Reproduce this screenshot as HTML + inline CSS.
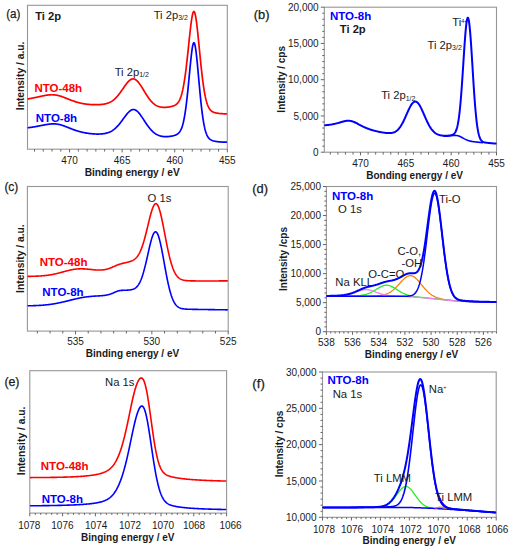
<!DOCTYPE html>
<html><head><meta charset="utf-8"><style>
html,body{margin:0;padding:0;background:#fff;}
svg{display:block;font-family:"Liberation Sans", sans-serif;}
</style></head><body>
<svg width="511" height="550" viewBox="0 0 511 550">
<rect width="511" height="550" fill="#fff"/>
<text x="6.15" y="17.6" font-size="12.5" fill="#1a1a1a" textLength="14.25" lengthAdjust="spacingAndGlyphs" stroke="#1a1a1a" stroke-width="0.25">(a)</text>
<rect x="27.5" y="5.3" width="199.80" height="143.90" fill="none" stroke="#969696" stroke-width="1.1"/>
<path d="M227.30,149.20v3.2 M218.54,149.20v2.4 M209.77,149.20v2.4 M201.01,149.20v2.4 M192.25,149.20v2.4 M183.48,149.20v2.4 M174.72,149.20v3.2 M165.96,149.20v2.4 M157.19,149.20v2.4 M148.43,149.20v2.4 M139.67,149.20v2.4 M130.90,149.20v2.4 M122.14,149.20v3.2 M113.38,149.20v2.4 M104.62,149.20v2.4 M95.85,149.20v2.4 M87.09,149.20v2.4 M78.33,149.20v2.4 M69.56,149.20v3.2 M60.80,149.20v2.4 M52.04,149.20v2.4 M43.27,149.20v2.4 M34.51,149.20v2.4" stroke="#555" stroke-width="0.9" fill="none"/>
<text x="69.56" y="163.6" font-size="10" font-weight="normal" fill="#1a1a1a" text-anchor="middle" >470</text>
<text x="122.14" y="163.6" font-size="10" font-weight="normal" fill="#1a1a1a" text-anchor="middle" >465</text>
<text x="174.72" y="163.6" font-size="10" font-weight="normal" fill="#1a1a1a" text-anchor="middle" >460</text>
<text x="227.30" y="163.6" font-size="10" font-weight="normal" fill="#1a1a1a" text-anchor="middle" >455</text>
<text x="132.2" y="175.7" font-size="10.2" font-weight="bold" fill="#1a1a1a" text-anchor="middle" >Binding energy / eV</text>
<text x="23.6" y="75.9" font-size="10.3" font-weight="bold" fill="#1a1a1a" text-anchor="middle" transform="rotate(-90 23.6 75.9)">Intensity / a.u.</text>
<polyline points="28.30,98.88 28.80,98.79 29.30,98.70 29.80,98.61 30.30,98.52 30.80,98.43 31.30,98.34 31.80,98.24 32.30,98.14 32.80,98.04 33.30,97.94 33.80,97.84 34.30,97.74 34.80,97.63 35.30,97.53 35.80,97.42 36.30,97.32 36.80,97.21 37.30,97.10 37.80,96.99 38.30,96.88 38.80,96.77 39.30,96.66 39.80,96.55 40.30,96.45 40.80,96.34 41.30,96.23 41.80,96.12 42.30,96.02 42.80,95.92 43.30,95.82 43.80,95.72 44.30,95.62 44.80,95.53 45.30,95.44 45.80,95.35 46.30,95.27 46.80,95.19 47.30,95.12 47.80,95.05 48.30,94.99 48.80,94.94 49.30,94.89 49.80,94.85 50.30,94.82 50.80,94.79 51.30,94.77 51.80,94.77 52.30,94.77 52.80,94.78 53.30,94.80 53.80,94.83 54.30,94.87 54.80,94.92 55.30,94.98 55.80,95.05 56.30,95.13 56.80,95.22 57.30,95.32 57.80,95.43 58.30,95.54 58.80,95.67 59.30,95.81 59.80,95.95 60.30,96.10 60.80,96.26 61.30,96.42 61.80,96.59 62.30,96.77 62.80,96.95 63.30,97.13 63.80,97.32 64.30,97.51 64.80,97.71 65.30,97.90 65.80,98.10 66.30,98.30 66.80,98.50 67.30,98.70 67.80,98.90 68.30,99.10 68.80,99.30 69.30,99.49 69.80,99.69 70.30,99.88 70.80,100.08 71.30,100.26 71.80,100.45 72.30,100.63 72.80,100.81 73.30,100.99 73.80,101.16 74.30,101.33 74.80,101.50 75.30,101.66 75.80,101.82 76.30,101.97 76.80,102.12 77.30,102.27 77.80,102.41 78.30,102.54 78.80,102.68 79.30,102.80 79.80,102.93 80.30,103.04 80.80,103.16 81.30,103.27 81.80,103.37 82.30,103.47 82.80,103.57 83.30,103.66 83.80,103.75 84.30,103.83 84.80,103.91 85.30,103.98 85.80,104.05 86.30,104.12 86.80,104.18 87.30,104.24 87.80,104.30 88.30,104.35 88.80,104.39 89.30,104.44 89.80,104.48 90.30,104.52 90.80,104.55 91.30,104.58 91.80,104.61 92.30,104.63 92.80,104.65 93.30,104.67 93.80,104.68 94.30,104.69 94.80,104.70 95.30,104.70 95.80,104.70 96.30,104.70 96.80,104.69 97.30,104.69 97.80,104.67 98.30,104.66 98.80,104.63 99.30,104.61 99.80,104.58 100.30,104.55 100.80,104.51 101.30,104.46 101.80,104.41 102.30,104.35 102.80,104.29 103.30,104.22 103.80,104.14 104.30,104.05 104.80,103.96 105.30,103.85 105.80,103.73 106.30,103.61 106.80,103.47 107.30,103.31 107.80,103.15 108.30,102.97 108.80,102.77 109.30,102.56 109.80,102.33 110.30,102.08 110.80,101.81 111.30,101.52 111.80,101.21 112.30,100.88 112.80,100.53 113.30,100.16 113.80,99.76 114.30,99.34 114.80,98.89 115.30,98.42 115.80,97.92 116.30,97.41 116.80,96.86 117.30,96.30 117.80,95.71 118.30,95.10 118.80,94.47 119.30,93.82 119.80,93.16 120.30,92.47 120.80,91.78 121.30,91.07 121.80,90.35 122.30,89.63 122.80,88.90 123.30,88.17 123.80,87.45 124.30,86.73 124.80,86.02 125.30,85.32 125.80,84.64 126.30,83.98 126.80,83.34 127.30,82.74 127.80,82.16 128.30,81.62 128.80,81.12 129.30,80.67 129.80,80.26 130.30,79.90 130.80,79.59 131.30,79.34 131.80,79.15 132.30,79.02 132.80,78.95 133.30,78.94 133.80,79.00 134.30,79.11 134.80,79.29 135.30,79.54 135.80,79.84 136.30,80.20 136.80,80.62 137.30,81.09 137.80,81.61 138.30,82.18 138.80,82.79 139.30,83.45 139.80,84.14 140.30,84.86 140.80,85.60 141.30,86.38 141.80,87.17 142.30,87.97 142.80,88.79 143.30,89.62 143.80,90.45 144.30,91.28 144.80,92.11 145.30,92.93 145.80,93.74 146.30,94.54 146.80,95.33 147.30,96.09 147.80,96.84 148.30,97.56 148.80,98.27 149.30,98.94 149.80,99.59 150.30,100.22 150.80,100.81 151.30,101.38 151.80,101.92 152.30,102.42 152.80,102.90 153.30,103.35 153.80,103.78 154.30,104.17 154.80,104.53 155.30,104.87 155.80,105.18 156.30,105.47 156.80,105.73 157.30,105.97 157.80,106.19 158.30,106.38 158.80,106.55 159.30,106.70 159.80,106.84 160.30,106.96 160.80,107.06 161.30,107.14 161.80,107.21 162.30,107.26 162.80,107.31 163.30,107.34 163.80,107.35 164.30,107.36 164.80,107.36 165.30,107.34 165.80,107.32 166.30,107.29 166.80,107.25 167.30,107.20 167.80,107.14 168.30,107.08 168.80,107.01 169.30,106.92 169.80,106.83 170.30,106.74 170.80,106.63 171.30,106.51 171.80,106.38 172.30,106.24 172.80,106.08 173.30,105.91 173.80,105.71 174.30,105.50 174.80,105.25 175.30,104.97 175.80,104.66 176.30,104.29 176.80,103.87 177.30,103.39 177.80,102.83 178.30,102.18 178.80,101.43 179.30,100.56 179.80,99.55 180.30,98.39 180.80,97.06 181.30,95.54 181.80,93.81 182.30,91.85 182.80,89.65 183.30,87.20 183.80,84.47 184.30,81.47 184.80,78.19 185.30,74.63 185.80,70.81 186.30,66.74 186.80,62.44 187.30,57.94 187.80,53.29 188.30,48.54 188.80,43.73 189.30,38.95 189.80,34.26 190.30,29.76 190.80,25.53 191.30,21.68 191.80,18.31 192.30,15.52 192.80,13.40 193.30,12.02 193.80,11.46 194.30,11.72 194.80,12.82 195.30,14.71 195.80,17.34 196.30,20.62 196.80,24.46 197.30,28.76 197.80,33.41 198.30,38.32 198.80,43.37 199.30,48.50 199.80,53.63 200.30,58.67 200.80,63.59 201.30,68.32 201.80,72.84 202.30,77.10 202.80,81.08 203.30,84.78 203.80,88.18 204.30,91.29 204.80,94.10 205.30,96.63 205.80,98.88 206.30,100.88 206.80,102.64 207.30,104.18 207.80,105.51 208.30,106.67 208.80,107.67 209.30,108.53 209.80,109.27 210.30,109.89 210.80,110.43 211.30,110.88 211.80,111.27 212.30,111.60 212.80,111.88 213.30,112.12 213.80,112.33 214.30,112.51 214.80,112.66 215.30,112.80 215.80,112.92 216.30,113.03 216.80,113.12 217.30,113.20 217.80,113.28 218.30,113.35 218.80,113.41 219.30,113.47 219.80,113.52 220.30,113.56 220.80,113.61 221.30,113.64 221.80,113.68 222.30,113.71 222.80,113.74 223.30,113.77 223.80,113.79 224.30,113.81 224.80,113.83 225.30,113.85 225.80,113.86 226.30,113.88" fill="none" stroke="#ff0000" stroke-width="1.7" stroke-linejoin="round" stroke-linecap="round"/>
<polyline points="28.30,127.74 28.80,127.66 29.30,127.59 29.80,127.52 30.30,127.45 30.80,127.37 31.30,127.29 31.80,127.22 32.30,127.14 32.80,127.06 33.30,126.98 33.80,126.90 34.30,126.81 34.80,126.73 35.30,126.64 35.80,126.55 36.30,126.47 36.80,126.38 37.30,126.29 37.80,126.19 38.30,126.10 38.80,126.01 39.30,125.91 39.80,125.82 40.30,125.72 40.80,125.63 41.30,125.53 41.80,125.43 42.30,125.34 42.80,125.24 43.30,125.14 43.80,125.05 44.30,124.95 44.80,124.86 45.30,124.77 45.80,124.68 46.30,124.59 46.80,124.51 47.30,124.43 47.80,124.35 48.30,124.27 48.80,124.20 49.30,124.14 49.80,124.08 50.30,124.03 50.80,123.98 51.30,123.94 51.80,123.91 52.30,123.89 52.80,123.87 53.30,123.86 53.80,123.86 54.30,123.87 54.80,123.90 55.30,123.93 55.80,123.97 56.30,124.02 56.80,124.08 57.30,124.15 57.80,124.23 58.30,124.32 58.80,124.42 59.30,124.52 59.80,124.64 60.30,124.77 60.80,124.91 61.30,125.05 61.80,125.20 62.30,125.36 62.80,125.52 63.30,125.70 63.80,125.87 64.30,126.05 64.80,126.24 65.30,126.43 65.80,126.62 66.30,126.81 66.80,127.01 67.30,127.21 67.80,127.41 68.30,127.61 68.80,127.81 69.30,128.01 69.80,128.21 70.30,128.40 70.80,128.60 71.30,128.80 71.80,128.99 72.30,129.18 72.80,129.37 73.30,129.55 73.80,129.73 74.30,129.91 74.80,130.09 75.30,130.26 75.80,130.43 76.30,130.59 76.80,130.75 77.30,130.91 77.80,131.06 78.30,131.21 78.80,131.35 79.30,131.50 79.80,131.63 80.30,131.76 80.80,131.89 81.30,132.02 81.80,132.14 82.30,132.26 82.80,132.37 83.30,132.48 83.80,132.58 84.30,132.68 84.80,132.78 85.30,132.87 85.80,132.96 86.30,133.05 86.80,133.13 87.30,133.21 87.80,133.28 88.30,133.36 88.80,133.42 89.30,133.49 89.80,133.55 90.30,133.61 90.80,133.66 91.30,133.71 91.80,133.76 92.30,133.80 92.80,133.84 93.30,133.88 93.80,133.92 94.30,133.95 94.80,133.97 95.30,134.00 95.80,134.01 96.30,134.03 96.80,134.04 97.30,134.05 97.80,134.05 98.30,134.05 98.80,134.05 99.30,134.04 99.80,134.02 100.30,134.00 100.80,133.97 101.30,133.94 101.80,133.90 102.30,133.85 102.80,133.80 103.30,133.74 103.80,133.67 104.30,133.59 104.80,133.50 105.30,133.40 105.80,133.30 106.30,133.18 106.80,133.05 107.30,132.90 107.80,132.74 108.30,132.57 108.80,132.39 109.30,132.19 109.80,131.97 110.30,131.73 110.80,131.48 111.30,131.21 111.80,130.92 112.30,130.61 112.80,130.28 113.30,129.93 113.80,129.56 114.30,129.17 114.80,128.76 115.30,128.32 115.80,127.87 116.30,127.39 116.80,126.89 117.30,126.37 117.80,125.83 118.30,125.27 118.80,124.69 119.30,124.10 119.80,123.48 120.30,122.86 120.80,122.21 121.30,121.56 121.80,120.89 122.30,120.22 122.80,119.54 123.30,118.86 123.80,118.18 124.30,117.50 124.80,116.82 125.30,116.15 125.80,115.50 126.30,114.85 126.80,114.23 127.30,113.63 127.80,113.06 128.30,112.51 128.80,112.00 129.30,111.53 129.80,111.09 130.30,110.71 130.80,110.37 131.30,110.08 131.80,109.85 132.30,109.68 132.80,109.56 133.30,109.51 133.80,109.52 134.30,109.59 134.80,109.72 135.30,109.92 135.80,110.18 136.30,110.49 136.80,110.86 137.30,111.28 137.80,111.75 138.30,112.27 138.80,112.84 139.30,113.44 139.80,114.07 140.30,114.74 140.80,115.43 141.30,116.14 141.80,116.87 142.30,117.62 142.80,118.38 143.30,119.14 143.80,119.91 144.30,120.68 144.80,121.45 145.30,122.21 145.80,122.96 146.30,123.71 146.80,124.44 147.30,125.15 147.80,125.85 148.30,126.53 148.80,127.20 149.30,127.84 149.80,128.46 150.30,129.05 150.80,129.62 151.30,130.17 151.80,130.69 152.30,131.19 152.80,131.66 153.30,132.11 153.80,132.53 154.30,132.93 154.80,133.30 155.30,133.65 155.80,133.97 156.30,134.28 156.80,134.56 157.30,134.82 157.80,135.05 158.30,135.27 158.80,135.47 159.30,135.65 159.80,135.81 160.30,135.96 160.80,136.08 161.30,136.20 161.80,136.30 162.30,136.38 162.80,136.46 163.30,136.52 163.80,136.56 164.30,136.60 164.80,136.63 165.30,136.64 165.80,136.65 166.30,136.65 166.80,136.64 167.30,136.62 167.80,136.59 168.30,136.55 168.80,136.51 169.30,136.46 169.80,136.40 170.30,136.33 170.80,136.26 171.30,136.17 171.80,136.08 172.30,135.98 172.80,135.87 173.30,135.74 173.80,135.61 174.30,135.46 174.80,135.29 175.30,135.11 175.80,134.90 176.30,134.67 176.80,134.40 177.30,134.10 177.80,133.75 178.30,133.34 178.80,132.86 179.30,132.30 179.80,131.64 180.30,130.86 180.80,129.95 181.30,128.88 181.80,127.63 182.30,126.17 182.80,124.48 183.30,122.53 183.80,120.30 184.30,117.76 184.80,114.91 185.30,111.72 185.80,108.19 186.30,104.33 186.80,100.14 187.30,95.64 187.80,90.87 188.30,85.87 188.80,80.71 189.30,75.45 189.80,70.19 190.30,65.02 190.80,60.08 191.30,55.49 191.80,51.40 192.30,47.95 192.80,45.28 193.30,43.52 193.80,42.75 194.30,43.03 194.80,44.34 195.30,46.64 195.80,49.82 196.30,53.76 196.80,58.30 197.30,63.31 197.80,68.64 198.30,74.15 198.80,79.73 199.30,85.27 199.80,90.68 200.30,95.89 200.80,100.85 201.30,105.51 201.80,109.84 202.30,113.81 202.80,117.43 203.30,120.69 203.80,123.60 204.30,126.17 204.80,128.43 205.30,130.39 205.80,132.09 206.30,133.55 206.80,134.79 207.30,135.85 207.80,136.74 208.30,137.50 208.80,138.13 209.30,138.67 209.80,139.12 210.30,139.50 210.80,139.82 211.30,140.10 211.80,140.33 212.30,140.54 212.80,140.71 213.30,140.87 213.80,141.00 214.30,141.13 214.80,141.23 215.30,141.33 215.80,141.42 216.30,141.50 216.80,141.57 217.30,141.64 217.80,141.70 218.30,141.76 218.80,141.81 219.30,141.85 219.80,141.90 220.30,141.94 220.80,141.97 221.30,142.00 221.80,142.03 222.30,142.06 222.80,142.09 223.30,142.11 223.80,142.13 224.30,142.14 224.80,142.16 225.30,142.17 225.80,142.19 226.30,142.20" fill="none" stroke="#0000ff" stroke-width="1.7" stroke-linejoin="round" stroke-linecap="round"/>
<text x="35.2" y="19.6" font-size="11.2" font-weight="bold" fill="#1a1a1a" text-anchor="start" >Ti 2p</text>
<text x="153.7" y="18.8" font-size="11.2" fill="#1a1a1a">Ti 2p<tspan font-size="7" dy="1.2">3/2</tspan></text>
<text x="114.7" y="75.5" font-size="11.2" fill="#1a1a1a">Ti 2p<tspan font-size="7" dy="1.2">1/2</tspan></text>
<text x="34.4" y="91.9" font-size="11.5" font-weight="bold" fill="#ff0000" text-anchor="start" >NTO-48h</text>
<text x="35.8" y="121.9" font-size="11.5" font-weight="bold" fill="#0000ff" text-anchor="start" >NTO-8h</text>
<text x="253.8" y="19.2" font-size="12.5" fill="#1a1a1a" textLength="15.70" lengthAdjust="spacingAndGlyphs" stroke="#1a1a1a" stroke-width="0.25">(b)</text>
<rect x="324.3" y="7.2" width="172.20" height="145.00" fill="none" stroke="#969696" stroke-width="1.1"/>
<path d="M496.50,152.20v3.2 M488.95,152.20v2.4 M481.39,152.20v2.4 M473.84,152.20v2.4 M466.29,152.20v2.4 M458.74,152.20v2.4 M451.18,152.20v3.2 M443.63,152.20v2.4 M436.08,152.20v2.4 M428.53,152.20v2.4 M420.97,152.20v2.4 M413.42,152.20v2.4 M405.87,152.20v3.2 M398.32,152.20v2.4 M390.76,152.20v2.4 M383.21,152.20v2.4 M375.66,152.20v2.4 M368.10,152.20v2.4 M360.55,152.20v3.2 M353.00,152.20v2.4 M345.45,152.20v2.4 M337.89,152.20v2.4 M330.34,152.20v2.4" stroke="#555" stroke-width="0.9" fill="none"/>
<text x="360.55" y="166.7" font-size="10" font-weight="normal" fill="#1a1a1a" text-anchor="middle" >470</text>
<text x="405.87" y="166.7" font-size="10" font-weight="normal" fill="#1a1a1a" text-anchor="middle" >465</text>
<text x="451.18" y="166.7" font-size="10" font-weight="normal" fill="#1a1a1a" text-anchor="middle" >460</text>
<text x="496.50" y="166.7" font-size="10" font-weight="normal" fill="#1a1a1a" text-anchor="middle" >455</text>
<path d="M324.30,152.20h-3.5 M324.30,146.16h-2 M324.30,140.12h-2 M324.30,134.07h-2 M324.30,128.03h-2 M324.30,121.99h-2 M324.30,115.95h-3.5 M324.30,109.91h-2 M324.30,103.87h-2 M324.30,97.82h-2 M324.30,91.78h-2 M324.30,85.74h-2 M324.30,79.70h-3.5 M324.30,73.66h-2 M324.30,67.62h-2 M324.30,61.57h-2 M324.30,55.53h-2 M324.30,49.49h-2 M324.30,43.45h-3.5 M324.30,37.41h-2 M324.30,31.37h-2 M324.30,25.32h-2 M324.30,19.28h-2 M324.30,13.24h-2 M324.30,7.20h-3.5" stroke="#555" stroke-width="0.9" fill="none"/>
<text x="318.6" y="155.80" font-size="10" font-weight="normal" fill="#1a1a1a" text-anchor="end" >0</text>
<text x="318.6" y="119.55" font-size="10" font-weight="normal" fill="#1a1a1a" text-anchor="end" >5,000</text>
<text x="318.6" y="83.30" font-size="10" font-weight="normal" fill="#1a1a1a" text-anchor="end" >10,000</text>
<text x="318.6" y="47.05" font-size="10" font-weight="normal" fill="#1a1a1a" text-anchor="end" >15,000</text>
<text x="318.6" y="10.80" font-size="10" font-weight="normal" fill="#1a1a1a" text-anchor="end" >20,000</text>
<text x="414.6" y="179.4" font-size="10" font-weight="bold" fill="#1a1a1a" text-anchor="middle" >Bonding energy / eV</text>
<text x="284.9" y="79.3" font-size="10" font-weight="bold" fill="#1a1a1a" text-anchor="middle" transform="rotate(-90 284.9 79.3)">Intensity / cps</text>
<polyline points="325.10,125.23 325.60,125.19 326.10,125.15 326.60,125.11 327.10,125.06 327.60,125.01 328.10,124.95 328.60,124.89 329.10,124.83 329.60,124.77 330.10,124.70 330.60,124.62 331.10,124.55 331.60,124.46 332.10,124.38 332.60,124.29 333.10,124.19 333.60,124.09 334.10,123.99 334.60,123.88 335.10,123.77 335.60,123.65 336.10,123.53 336.60,123.40 337.10,123.27 337.60,123.13 338.10,123.00 338.60,122.85 339.10,122.71 339.60,122.57 340.10,122.42 340.60,122.27 341.10,122.12 341.60,121.98 342.10,121.83 342.60,121.69 343.10,121.55 343.60,121.42 344.10,121.30 344.60,121.19 345.10,121.08 345.60,120.99 346.10,120.91 346.60,120.84 347.10,120.79 347.60,120.76 348.10,120.74 348.60,120.74 349.10,120.77 349.60,120.81 350.10,120.87 350.60,120.95 351.10,121.06 351.60,121.18 352.10,121.32 352.60,121.48 353.10,121.65 353.60,121.84 354.10,122.04 354.60,122.26 355.10,122.49 355.60,122.72 356.10,122.97 356.60,123.22 357.10,123.48 357.60,123.74 358.10,124.01 358.60,124.27 359.10,124.54 359.60,124.80 360.10,125.07 360.60,125.33 361.10,125.59 361.60,125.85 362.10,126.10 362.60,126.35 363.10,126.59 363.60,126.83 364.10,127.06 364.60,127.29 365.10,127.51 365.60,127.73 366.10,127.94 366.60,128.15 367.10,128.35 367.60,128.54 368.10,128.73 368.60,128.92 369.10,129.10 369.60,129.27 370.10,129.44 370.60,129.61 371.10,129.77 371.60,129.92 372.10,130.08 372.60,130.22 373.10,130.37 373.60,130.51 374.10,130.64 374.60,130.77 375.10,130.90 375.60,131.03 376.10,131.15 376.60,131.27 377.10,131.38 377.60,131.50 378.10,131.61 378.60,131.71 379.10,131.82 379.60,131.92 380.10,132.02 380.60,132.11 381.10,132.21 381.60,132.30 382.10,132.38 382.60,132.47 383.10,132.55 383.60,132.62 384.10,132.70 384.60,132.76 385.10,132.83 385.60,132.89 386.10,132.94 386.60,132.99 387.10,133.03 387.60,133.06 388.10,133.09 388.60,133.11 389.10,133.11 389.60,133.11 390.10,133.09 390.60,133.05 391.10,133.00 391.60,132.93 392.10,132.85 392.60,132.74 393.10,132.61 393.60,132.45 394.10,132.26 394.60,132.05 395.10,131.80 395.60,131.51 396.10,131.19 396.60,130.83 397.10,130.43 397.60,129.99 398.10,129.50 398.60,128.96 399.10,128.38 399.60,127.74 400.10,127.06 400.60,126.33 401.10,125.54 401.60,124.71 402.10,123.84 402.60,122.91 403.10,121.95 403.60,120.94 404.10,119.90 404.60,118.83 405.10,117.74 405.60,116.62 406.10,115.49 406.60,114.35 407.10,113.22 407.60,112.09 408.10,110.98 408.60,109.89 409.10,108.84 409.60,107.83 410.10,106.87 410.60,105.97 411.10,105.13 411.60,104.36 412.10,103.68 412.60,103.09 413.10,102.58 413.60,102.18 414.10,101.87 414.60,101.67 415.10,101.57 415.60,101.59 416.10,101.71 416.60,101.93 417.10,102.26 417.60,102.69 418.10,103.22 418.60,103.84 419.10,104.54 419.60,105.33 420.10,106.19 420.60,107.12 421.10,108.10 421.60,109.13 422.10,110.21 422.60,111.31 423.10,112.45 423.60,113.60 424.10,114.75 424.60,115.91 425.10,117.07 425.60,118.21 426.10,119.33 426.60,120.43 427.10,121.50 427.60,122.54 428.10,123.53 428.60,124.49 429.10,125.41 429.60,126.28 430.10,127.10 430.60,127.88 431.10,128.61 431.60,129.30 432.10,129.94 432.60,130.53 433.10,131.08 433.60,131.58 434.10,132.05 434.60,132.48 435.10,132.87 435.60,133.22 436.10,133.55 436.60,133.84 437.10,134.10 437.60,134.34 438.10,134.55 438.60,134.74 439.10,134.91 439.60,135.06 440.10,135.19 440.60,135.31 441.10,135.41 441.60,135.50 442.10,135.57 442.60,135.63 443.10,135.68 443.60,135.72 444.10,135.75 444.60,135.77 445.10,135.78 445.60,135.78 446.10,135.77 446.60,135.76 447.10,135.73 447.60,135.70 448.10,135.66 448.60,135.61 449.10,135.55 449.60,135.48 450.10,135.39 450.60,135.30 451.10,135.19 451.60,135.05 452.10,134.89 452.60,134.69 453.10,134.44 453.60,134.11 454.10,133.70 454.60,133.17 455.10,132.50 455.60,131.63 456.10,130.54 456.60,129.17 457.10,127.47 457.60,125.38 458.10,122.85 458.60,119.81 459.10,116.22 459.60,112.04 460.10,107.24 460.60,101.82 461.10,95.79 461.60,89.20 462.10,82.13 462.60,74.67 463.10,66.96 463.60,59.18 464.10,51.50 464.60,44.13 465.10,37.29 465.60,31.19 466.10,26.03 466.60,21.99 467.10,19.22 467.60,17.81 468.10,17.83 468.60,19.29 469.10,22.14 469.60,26.27 470.10,31.57 470.60,37.84 471.10,44.90 471.60,52.54 472.10,60.53 472.60,68.67 473.10,76.76 473.60,84.64 474.10,92.15 474.60,99.18 475.10,105.65 475.60,111.51 476.10,116.72 476.60,121.29 477.10,125.25 477.60,128.61 478.10,131.44 478.60,133.78 479.10,135.70 479.60,137.25 480.10,138.48 480.60,139.46 481.10,140.23 481.60,140.83 482.10,141.29 482.60,141.64 483.10,141.91 483.60,142.12 484.10,142.29 484.60,142.42 485.10,142.53 485.60,142.61 486.10,142.69 486.60,142.76 487.10,142.81 487.60,142.87 488.10,142.92 488.60,142.97 489.10,143.02 489.60,143.07 490.10,143.12 490.60,143.16 491.10,143.21 491.60,143.25 492.10,143.30 492.60,143.34 493.10,143.39 493.60,143.43 494.10,143.48 494.60,143.52 495.10,143.56 495.60,143.61" fill="none" stroke="#0000ff" stroke-width="2" stroke-linejoin="round" stroke-linecap="round"/>
<polyline points="444.00,136.25 444.50,136.25 445.00,136.23 445.50,136.22 446.00,136.19 446.50,136.16 447.00,136.13 447.50,136.09 448.00,136.05 448.50,136.00 449.00,135.95 449.50,135.89 450.00,135.83 450.50,135.77 451.00,135.71 451.50,135.66 452.00,135.60 452.50,135.55 453.00,135.50 453.50,135.46 454.00,135.43 454.50,135.41 455.00,135.41 455.50,135.42 456.00,135.45 456.50,135.51 457.00,135.58 457.50,135.68 458.00,135.80 458.50,135.94 459.00,136.11 459.50,136.31 460.00,136.52 460.50,136.75 461.00,137.00 461.50,137.26 462.00,137.53 462.50,137.80 463.00,138.08 463.50,138.36 464.00,138.63 464.50,138.90 465.00,139.15 465.50,139.40 466.00,139.63 466.50,139.86 467.00,140.07 467.50,140.26 468.00,140.44 468.50,140.61 469.00,140.76 469.50,140.90 470.00,141.03 470.50,141.15 471.00,141.26 471.50,141.36 472.00,141.45 472.50,141.54 473.00,141.62 473.50,141.69 474.00,141.76 474.50,141.82 475.00,141.88 475.50,141.94 476.00,142.00 476.50,142.05 477.00,142.11 477.50,142.16 478.00,142.21 478.50,142.26 479.00,142.31 479.50,142.36 480.00,142.41 480.50,142.46 481.00,142.51 481.50,142.55 482.00,142.60 482.50,142.65" fill="none" stroke="#0000ff" stroke-width="1.6" stroke-linejoin="round" stroke-linecap="round"/>
<text x="329.9" y="19.7" font-size="11.5" font-weight="bold" fill="#0000ff" text-anchor="start" >NTO-8h</text>
<text x="339.8" y="33.1" font-size="11.2" font-weight="bold" fill="#1a1a1a" text-anchor="start" >Ti 2p</text>
<text x="452.3" y="26.3" font-size="11.3" fill="#1a1a1a">Ti<tspan font-size="5.5" dy="-3.6">4+</tspan></text>
<text x="427.6" y="48.9" font-size="11.2" fill="#1a1a1a">Ti 2p<tspan font-size="7" dy="1.2">3/2</tspan></text>
<text x="381.2" y="99.4" font-size="11.2" fill="#1a1a1a">Ti 2p<tspan font-size="7" dy="1.2">1/2</tspan></text>
<text x="4.4" y="191.2" font-size="12.5" fill="#1a1a1a" textLength="13.90" lengthAdjust="spacingAndGlyphs" stroke="#1a1a1a" stroke-width="0.25">(c)</text>
<rect x="27.4" y="186.5" width="200.80" height="144.60" fill="none" stroke="#969696" stroke-width="1.1"/>
<path d="M228.20,331.10v3.2 M215.48,331.10v2.4 M202.75,331.10v2.4 M190.03,331.10v2.4 M177.30,331.10v2.4 M164.57,331.10v2.4 M151.85,331.10v3.2 M139.13,331.10v2.4 M126.40,331.10v2.4 M113.68,331.10v2.4 M100.95,331.10v2.4 M88.22,331.10v2.4 M75.50,331.10v3.2 M62.78,331.10v2.4 M50.05,331.10v2.4 M37.33,331.10v2.4" stroke="#555" stroke-width="0.9" fill="none"/>
<text x="75.50" y="345.4" font-size="10" font-weight="normal" fill="#1a1a1a" text-anchor="middle" >535</text>
<text x="151.85" y="345.4" font-size="10" font-weight="normal" fill="#1a1a1a" text-anchor="middle" >530</text>
<text x="228.20" y="345.4" font-size="10" font-weight="normal" fill="#1a1a1a" text-anchor="middle" >525</text>
<text x="132.5" y="357.4" font-size="10" font-weight="bold" fill="#1a1a1a" text-anchor="middle" >Binding energy / eV</text>
<text x="23.6" y="258.6" font-size="10.3" font-weight="bold" fill="#1a1a1a" text-anchor="middle" transform="rotate(-90 23.6 258.6)">Intensity / a.u.</text>
<polyline points="28.20,276.39 28.70,276.38 29.20,276.37 29.70,276.36 30.20,276.35 30.70,276.34 31.20,276.33 31.70,276.32 32.20,276.31 32.70,276.29 33.20,276.28 33.70,276.26 34.20,276.25 34.70,276.23 35.20,276.21 35.70,276.19 36.20,276.17 36.70,276.15 37.20,276.13 37.70,276.11 38.20,276.08 38.70,276.05 39.20,276.03 39.70,276.00 40.20,275.97 40.70,275.93 41.20,275.90 41.70,275.86 42.20,275.82 42.70,275.78 43.20,275.74 43.70,275.70 44.20,275.65 44.70,275.60 45.20,275.55 45.70,275.49 46.20,275.44 46.70,275.38 47.20,275.31 47.70,275.25 48.20,275.18 48.70,275.11 49.20,275.04 49.70,274.96 50.20,274.88 50.70,274.80 51.20,274.71 51.70,274.62 52.20,274.53 52.70,274.43 53.20,274.34 53.70,274.23 54.20,274.13 54.70,274.02 55.20,273.91 55.70,273.80 56.20,273.69 56.70,273.57 57.20,273.45 57.70,273.32 58.20,273.20 58.70,273.07 59.20,272.94 59.70,272.81 60.20,272.68 60.70,272.55 61.20,272.41 61.70,272.28 62.20,272.14 62.70,272.00 63.20,271.87 63.70,271.73 64.20,271.59 64.70,271.46 65.20,271.32 65.70,271.19 66.20,271.05 66.70,270.92 67.20,270.79 67.70,270.67 68.20,270.54 68.70,270.42 69.20,270.30 69.70,270.19 70.20,270.07 70.70,269.96 71.20,269.86 71.70,269.76 72.20,269.66 72.70,269.57 73.20,269.48 73.70,269.40 74.20,269.32 74.70,269.25 75.20,269.18 75.70,269.12 76.20,269.07 76.70,269.01 77.20,268.97 77.70,268.93 78.20,268.90 78.70,268.87 79.20,268.84 79.70,268.83 80.20,268.81 80.70,268.81 81.20,268.80 81.70,268.81 82.20,268.81 82.70,268.83 83.20,268.84 83.70,268.86 84.20,268.89 84.70,268.92 85.20,268.95 85.70,268.99 86.20,269.03 86.70,269.07 87.20,269.11 87.70,269.16 88.20,269.21 88.70,269.26 89.20,269.31 89.70,269.36 90.20,269.41 90.70,269.47 91.20,269.52 91.70,269.57 92.20,269.62 92.70,269.67 93.20,269.72 93.70,269.77 94.20,269.81 94.70,269.86 95.20,269.90 95.70,269.93 96.20,269.96 96.70,269.99 97.20,270.02 97.70,270.04 98.20,270.05 98.70,270.06 99.20,270.06 99.70,270.06 100.20,270.05 100.70,270.03 101.20,270.00 101.70,269.97 102.20,269.93 102.70,269.88 103.20,269.83 103.70,269.76 104.20,269.69 104.70,269.61 105.20,269.51 105.70,269.41 106.20,269.30 106.70,269.18 107.20,269.05 107.70,268.91 108.20,268.76 108.70,268.61 109.20,268.44 109.70,268.26 110.20,268.08 110.70,267.89 111.20,267.69 111.70,267.48 112.20,267.27 112.70,267.05 113.20,266.83 113.70,266.61 114.20,266.39 114.70,266.17 115.20,265.95 115.70,265.73 116.20,265.52 116.70,265.31 117.20,265.11 117.70,264.91 118.20,264.73 118.70,264.55 119.20,264.38 119.70,264.21 120.20,264.06 120.70,263.91 121.20,263.77 121.70,263.63 122.20,263.50 122.70,263.37 123.20,263.25 123.70,263.13 124.20,263.01 124.70,262.89 125.20,262.78 125.70,262.66 126.20,262.54 126.70,262.42 127.20,262.30 127.70,262.18 128.20,262.05 128.70,261.91 129.20,261.77 129.70,261.62 130.20,261.46 130.70,261.28 131.20,261.10 131.70,260.89 132.20,260.67 132.70,260.42 133.20,260.15 133.70,259.86 134.20,259.52 134.70,259.16 135.20,258.75 135.70,258.30 136.20,257.80 136.70,257.25 137.20,256.64 137.70,255.96 138.20,255.23 138.70,254.42 139.20,253.53 139.70,252.57 140.20,251.53 140.70,250.41 141.20,249.19 141.70,247.89 142.20,246.51 142.70,245.03 143.20,243.47 143.70,241.83 144.20,240.10 144.70,238.30 145.20,236.43 145.70,234.50 146.20,232.52 146.70,230.49 147.20,228.44 147.70,226.36 148.20,224.28 148.70,222.20 149.20,220.16 149.70,218.15 150.20,216.20 150.70,214.33 151.20,212.56 151.70,210.89 152.20,209.36 152.70,207.98 153.20,206.76 153.70,205.72 154.20,204.88 154.70,204.24 155.20,203.82 155.70,203.63 156.20,203.67 156.70,203.95 157.20,204.46 157.70,205.21 158.20,206.19 158.70,207.39 159.20,208.79 159.70,210.40 160.20,212.19 160.70,214.14 161.20,216.25 161.70,218.48 162.20,220.83 162.70,223.27 163.20,225.78 163.70,228.35 164.20,230.96 164.70,233.58 165.20,236.21 165.70,238.82 166.20,241.40 166.70,243.94 167.20,246.42 167.70,248.84 168.20,251.18 168.70,253.43 169.20,255.59 169.70,257.65 170.20,259.60 170.70,261.46 171.20,263.20 171.70,264.84 172.20,266.36 172.70,267.79 173.20,269.10 173.70,270.32 174.20,271.43 174.70,272.46 175.20,273.39 175.70,274.24 176.20,275.01 176.70,275.70 177.20,276.32 177.70,276.88 178.20,277.38 178.70,277.82 179.20,278.22 179.70,278.57 180.20,278.87 180.70,279.15 181.20,279.38 181.70,279.59 182.20,279.77 182.70,279.93 183.20,280.07 183.70,280.18 184.20,280.29 184.70,280.38 185.20,280.45 185.70,280.52 186.20,280.58 186.70,280.62 187.20,280.67 187.70,280.70 188.20,280.74 188.70,280.76 189.20,280.79 189.70,280.81 190.20,280.83 190.70,280.84 191.20,280.85 191.70,280.87 192.20,280.88 192.70,280.89 193.20,280.90 193.70,280.90 194.20,280.91 194.70,280.92 195.20,280.92 195.70,280.93 196.20,280.93 196.70,280.93 197.20,280.94 197.70,280.94 198.20,280.94 198.70,280.95 199.20,280.95 199.70,280.95 200.20,280.95 200.70,280.95 201.20,280.96 201.70,280.96 202.20,280.96 202.70,280.96 203.20,280.96 203.70,280.96 204.20,280.96 204.70,280.96 205.20,280.96 205.70,280.96 206.20,280.96 206.70,280.96 207.20,280.96 207.70,280.96 208.20,280.96 208.70,280.96 209.20,280.96 209.70,280.96 210.20,280.96 210.70,280.95 211.20,280.95 211.70,280.95 212.20,280.95 212.70,280.95 213.20,280.95 213.70,280.95 214.20,280.94 214.70,280.94 215.20,280.94 215.70,280.94 216.20,280.94 216.70,280.93 217.20,280.93 217.70,280.93 218.20,280.93 218.70,280.93 219.20,280.92 219.70,280.92 220.20,280.92 220.70,280.92 221.20,280.91 221.70,280.91 222.20,280.91 222.70,280.91 223.20,280.90 223.70,280.90 224.20,280.90 224.70,280.89 225.20,280.89 225.70,280.89 226.20,280.89 226.70,280.88 227.20,280.88" fill="none" stroke="#ff0000" stroke-width="1.6" stroke-linejoin="round" stroke-linecap="round"/>
<polyline points="28.20,305.77 28.70,305.77 29.20,305.76 29.70,305.75 30.20,305.74 30.70,305.73 31.20,305.72 31.70,305.71 32.20,305.70 32.70,305.69 33.20,305.67 33.70,305.66 34.20,305.64 34.70,305.63 35.20,305.61 35.70,305.59 36.20,305.57 36.70,305.55 37.20,305.53 37.70,305.50 38.20,305.48 38.70,305.45 39.20,305.42 39.70,305.40 40.20,305.36 40.70,305.33 41.20,305.30 41.70,305.26 42.20,305.23 42.70,305.19 43.20,305.15 43.70,305.11 44.20,305.06 44.70,305.02 45.20,304.97 45.70,304.92 46.20,304.87 46.70,304.82 47.20,304.76 47.70,304.71 48.20,304.65 48.70,304.59 49.20,304.52 49.70,304.46 50.20,304.39 50.70,304.32 51.20,304.25 51.70,304.18 52.20,304.10 52.70,304.02 53.20,303.95 53.70,303.86 54.20,303.78 54.70,303.69 55.20,303.61 55.70,303.52 56.20,303.43 56.70,303.33 57.20,303.24 57.70,303.14 58.20,303.04 58.70,302.94 59.20,302.83 59.70,302.73 60.20,302.62 60.70,302.51 61.20,302.40 61.70,302.29 62.20,302.18 62.70,302.07 63.20,301.95 63.70,301.83 64.20,301.72 64.70,301.60 65.20,301.48 65.70,301.36 66.20,301.23 66.70,301.11 67.20,300.99 67.70,300.86 68.20,300.74 68.70,300.62 69.20,300.49 69.70,300.37 70.20,300.24 70.70,300.12 71.20,299.99 71.70,299.87 72.20,299.75 72.70,299.62 73.20,299.50 73.70,299.38 74.20,299.26 74.70,299.14 75.20,299.02 75.70,298.91 76.20,298.79 76.70,298.68 77.20,298.57 77.70,298.46 78.20,298.35 78.70,298.24 79.20,298.14 79.70,298.04 80.20,297.94 80.70,297.84 81.20,297.74 81.70,297.65 82.20,297.56 82.70,297.47 83.20,297.39 83.70,297.31 84.20,297.23 84.70,297.15 85.20,297.08 85.70,297.00 86.20,296.93 86.70,296.87 87.20,296.81 87.70,296.74 88.20,296.69 88.70,296.63 89.20,296.58 89.70,296.53 90.20,296.48 90.70,296.43 91.20,296.39 91.70,296.34 92.20,296.30 92.70,296.27 93.20,296.23 93.70,296.20 94.20,296.16 94.70,296.13 95.20,296.10 95.70,296.07 96.20,296.04 96.70,296.01 97.20,295.98 97.70,295.96 98.20,295.93 98.70,295.90 99.20,295.87 99.70,295.84 100.20,295.81 100.70,295.77 101.20,295.74 101.70,295.70 102.20,295.65 102.70,295.61 103.20,295.56 103.70,295.51 104.20,295.45 104.70,295.38 105.20,295.31 105.70,295.23 106.20,295.15 106.70,295.05 107.20,294.95 107.70,294.84 108.20,294.72 108.70,294.60 109.20,294.46 109.70,294.31 110.20,294.15 110.70,293.98 111.20,293.80 111.70,293.60 112.20,293.40 112.70,293.20 113.20,292.98 113.70,292.76 114.20,292.53 114.70,292.31 115.20,292.08 115.70,291.86 116.20,291.65 116.70,291.45 117.20,291.27 117.70,291.10 118.20,290.95 118.70,290.82 119.20,290.71 119.70,290.61 120.20,290.54 120.70,290.47 121.20,290.42 121.70,290.38 122.20,290.35 122.70,290.33 123.20,290.31 123.70,290.29 124.20,290.27 124.70,290.25 125.20,290.24 125.70,290.22 126.20,290.20 126.70,290.18 127.20,290.15 127.70,290.12 128.20,290.09 128.70,290.05 129.20,290.01 129.70,289.95 130.20,289.89 130.70,289.81 131.20,289.72 131.70,289.62 132.20,289.49 132.70,289.35 133.20,289.17 133.70,288.97 134.20,288.74 134.70,288.47 135.20,288.15 135.70,287.79 136.20,287.38 136.70,286.91 137.20,286.38 137.70,285.78 138.20,285.11 138.70,284.36 139.20,283.53 139.70,282.60 140.20,281.58 140.70,280.47 141.20,279.26 141.70,277.94 142.20,276.52 142.70,275.00 143.20,273.38 143.70,271.65 144.20,269.83 144.70,267.92 145.20,265.93 145.70,263.86 146.20,261.73 146.70,259.55 147.20,257.33 147.70,255.09 148.20,252.85 148.70,250.61 149.20,248.41 149.70,246.27 150.20,244.19 150.70,242.21 151.20,240.35 151.70,238.62 152.20,237.05 152.70,235.65 153.20,234.44 153.70,233.45 154.20,232.67 154.70,232.13 155.20,231.84 155.70,231.79 156.20,232.00 156.70,232.47 157.20,233.19 157.70,234.16 158.20,235.37 158.70,236.81 159.20,238.46 159.70,240.32 160.20,242.37 160.70,244.58 161.20,246.94 161.70,249.42 162.20,252.01 162.70,254.68 163.20,257.41 163.70,260.17 164.20,262.96 164.70,265.74 165.20,268.50 165.70,271.22 166.20,273.88 166.70,276.48 167.20,278.99 167.70,281.41 168.20,283.72 168.70,285.93 169.20,288.02 169.70,289.99 170.20,291.83 170.70,293.56 171.20,295.16 171.70,296.64 172.20,298.01 172.70,299.26 173.20,300.40 173.70,301.44 174.20,302.38 174.70,303.22 175.20,303.98 175.70,304.66 176.20,305.26 176.70,305.79 177.20,306.26 177.70,306.68 178.20,307.04 178.70,307.36 179.20,307.63 179.70,307.87 180.20,308.08 180.70,308.26 181.20,308.41 181.70,308.54 182.20,308.66 182.70,308.75 183.20,308.83 183.70,308.91 184.20,308.97 184.70,309.02 185.20,309.06 185.70,309.10 186.20,309.13 186.70,309.16 187.20,309.18 187.70,309.21 188.20,309.23 188.70,309.24 189.20,309.26 189.70,309.27 190.20,309.29 190.70,309.30 191.20,309.31 191.70,309.32 192.20,309.33 192.70,309.34 193.20,309.35 193.70,309.36 194.20,309.37 194.70,309.37 195.20,309.38 195.70,309.39 196.20,309.40 196.70,309.41 197.20,309.42 197.70,309.42 198.20,309.43 198.70,309.44 199.20,309.45 199.70,309.45 200.20,309.46 200.70,309.47 201.20,309.48 201.70,309.49 202.20,309.49 202.70,309.50 203.20,309.51 203.70,309.52 204.20,309.52 204.70,309.53 205.20,309.54 205.70,309.54 206.20,309.55 206.70,309.56 207.20,309.57 207.70,309.57 208.20,309.58 208.70,309.59 209.20,309.60 209.70,309.60 210.20,309.61 210.70,309.62 211.20,309.62 211.70,309.63 212.20,309.64 212.70,309.65 213.20,309.65 213.70,309.66 214.20,309.67 214.70,309.67 215.20,309.68 215.70,309.69 216.20,309.70 216.70,309.70 217.20,309.71 217.70,309.72 218.20,309.72 218.70,309.73 219.20,309.74 219.70,309.74 220.20,309.75 220.70,309.76 221.20,309.76 221.70,309.77 222.20,309.78 222.70,309.79 223.20,309.79 223.70,309.80 224.20,309.81 224.70,309.81 225.20,309.82 225.70,309.83 226.20,309.83 226.70,309.84 227.20,309.85" fill="none" stroke="#0000ff" stroke-width="1.6" stroke-linejoin="round" stroke-linecap="round"/>
<text x="147.6" y="201.6" font-size="11.3" font-weight="normal" fill="#1a1a1a" text-anchor="start" >O 1s</text>
<text x="39.7" y="265.7" font-size="11.5" font-weight="bold" fill="#ff0000" text-anchor="start" >NTO-48h</text>
<text x="42.3" y="296" font-size="11.5" font-weight="bold" fill="#0000ff" text-anchor="start" >NTO-8h</text>
<text x="252.3" y="192.8" font-size="12.5" fill="#1a1a1a" textLength="15.70" lengthAdjust="spacingAndGlyphs" stroke="#1a1a1a" stroke-width="0.25">(d)</text>
<rect x="326.4" y="186.5" width="170.10" height="145.20" fill="none" stroke="#969696" stroke-width="1.1"/>
<path d="M496.50,331.70v1.8 M492.14,331.70v1.8 M487.78,331.70v1.8 M483.42,331.70v3.2 M479.05,331.70v1.8 M474.69,331.70v1.8 M470.33,331.70v1.8 M465.97,331.70v1.8 M461.61,331.70v1.8 M457.25,331.70v3.2 M452.89,331.70v1.8 M448.52,331.70v1.8 M444.16,331.70v1.8 M439.80,331.70v1.8 M435.44,331.70v1.8 M431.08,331.70v3.2 M426.72,331.70v1.8 M422.35,331.70v1.8 M417.99,331.70v1.8 M413.63,331.70v1.8 M409.27,331.70v1.8 M404.91,331.70v3.2 M400.55,331.70v1.8 M396.18,331.70v1.8 M391.82,331.70v1.8 M387.46,331.70v1.8 M383.10,331.70v1.8 M378.74,331.70v3.2 M374.38,331.70v1.8 M370.01,331.70v1.8 M365.65,331.70v1.8 M361.29,331.70v1.8 M356.93,331.70v1.8 M352.57,331.70v3.2 M348.21,331.70v1.8 M343.85,331.70v1.8 M339.48,331.70v1.8 M335.12,331.70v1.8 M330.76,331.70v1.8 M326.40,331.70v3.2" stroke="#555" stroke-width="0.9" fill="none"/>
<text x="326.40" y="345.5" font-size="10" font-weight="normal" fill="#1a1a1a" text-anchor="middle" >538</text>
<text x="352.57" y="345.5" font-size="10" font-weight="normal" fill="#1a1a1a" text-anchor="middle" >536</text>
<text x="378.74" y="345.5" font-size="10" font-weight="normal" fill="#1a1a1a" text-anchor="middle" >534</text>
<text x="404.91" y="345.5" font-size="10" font-weight="normal" fill="#1a1a1a" text-anchor="middle" >532</text>
<text x="431.08" y="345.5" font-size="10" font-weight="normal" fill="#1a1a1a" text-anchor="middle" >530</text>
<text x="457.25" y="345.5" font-size="10" font-weight="normal" fill="#1a1a1a" text-anchor="middle" >528</text>
<text x="483.42" y="345.5" font-size="10" font-weight="normal" fill="#1a1a1a" text-anchor="middle" >526</text>
<path d="M326.40,331.70h-3.5 M326.40,326.86h-2 M326.40,322.02h-2 M326.40,317.18h-2 M326.40,312.34h-2 M326.40,307.50h-2 M326.40,302.66h-3.5 M326.40,297.82h-2 M326.40,292.98h-2 M326.40,288.14h-2 M326.40,283.30h-2 M326.40,278.46h-2 M326.40,273.62h-3.5 M326.40,268.78h-2 M326.40,263.94h-2 M326.40,259.10h-2 M326.40,254.26h-2 M326.40,249.42h-2 M326.40,244.58h-3.5 M326.40,239.74h-2 M326.40,234.90h-2 M326.40,230.06h-2 M326.40,225.22h-2 M326.40,220.38h-2 M326.40,215.54h-3.5 M326.40,210.70h-2 M326.40,205.86h-2 M326.40,201.02h-2 M326.40,196.18h-2 M326.40,191.34h-2 M326.40,186.50h-3.5" stroke="#555" stroke-width="0.9" fill="none"/>
<text x="321" y="335.30" font-size="10" font-weight="normal" fill="#1a1a1a" text-anchor="end" >0</text>
<text x="321" y="306.26" font-size="10" font-weight="normal" fill="#1a1a1a" text-anchor="end" >5,000</text>
<text x="321" y="277.22" font-size="10" font-weight="normal" fill="#1a1a1a" text-anchor="end" >10,000</text>
<text x="321" y="248.18" font-size="10" font-weight="normal" fill="#1a1a1a" text-anchor="end" >15,000</text>
<text x="321" y="219.14" font-size="10" font-weight="normal" fill="#1a1a1a" text-anchor="end" >20,000</text>
<text x="321" y="190.10" font-size="10" font-weight="normal" fill="#1a1a1a" text-anchor="end" >25,000</text>
<text x="411.5" y="357.7" font-size="10" font-weight="bold" fill="#1a1a1a" text-anchor="middle" >Binding energy / eV</text>
<text x="287" y="259" font-size="10" font-weight="bold" fill="#1a1a1a" text-anchor="middle" transform="rotate(-90 287 259)">Intensity /cps</text>
<polyline points="327.20,296.22 327.70,296.22 328.20,296.22 328.70,296.22 329.20,296.22 329.70,296.22 330.20,296.21 330.70,296.21 331.20,296.21 331.70,296.21 332.20,296.21 332.70,296.21 333.20,296.21 333.70,296.21 334.20,296.21 334.70,296.21 335.20,296.21 335.70,296.21 336.20,296.21 336.70,296.20 337.20,296.20 337.70,296.20 338.20,296.20 338.70,296.20 339.20,296.20 339.70,296.20 340.20,296.20 340.70,296.20 341.20,296.20 341.70,296.20 342.20,296.19 342.70,296.19 343.20,296.19 343.70,296.19 344.20,296.19 344.70,296.19 345.20,296.19 345.70,296.19 346.20,296.19 346.70,296.18 347.20,296.18 347.70,296.18 348.20,296.18 348.70,296.18 349.20,296.18 349.70,296.18 350.20,296.17 350.70,296.17 351.20,296.17 351.70,296.17 352.20,296.17 352.70,296.17 353.20,296.16 353.70,296.16 354.20,296.16 354.70,296.16 355.20,296.16 355.70,296.16 356.20,296.15 356.70,296.15 357.20,296.15 357.70,296.15 358.20,296.15 358.70,296.14 359.20,296.14 359.70,296.14 360.20,296.14 360.70,296.13 361.20,296.13 361.70,296.13 362.20,296.13 362.70,296.12 363.20,296.12 363.70,296.12 364.20,296.11 364.70,296.11 365.20,296.11 365.70,296.10 366.20,296.10 366.70,296.09 367.20,296.09 367.70,296.08 368.20,296.08 368.70,296.07 369.20,296.07 369.70,296.06 370.20,296.05 370.70,296.04 371.20,296.03 371.70,296.02 372.20,296.01 372.70,296.00 373.20,295.98 373.70,295.97 374.20,295.95 374.70,295.93 375.20,295.91 375.70,295.89 376.20,295.86 376.70,295.83 377.20,295.80 377.70,295.76 378.20,295.72 378.70,295.68 379.20,295.63 379.70,295.57 380.20,295.51 380.70,295.44 381.20,295.37 381.70,295.29 382.20,295.20 382.70,295.10 383.20,295.00 383.70,294.88 384.20,294.75 384.70,294.61 385.20,294.46 385.70,294.30 386.20,294.12 386.70,293.93 387.20,293.73 387.70,293.51 388.20,293.28 388.70,293.03 389.20,292.76 389.70,292.47 390.20,292.17 390.70,291.85 391.20,291.51 391.70,291.15 392.20,290.78 392.70,290.39 393.20,289.98 393.70,289.55 394.20,289.10 394.70,288.64 395.20,288.17 395.70,287.68 396.20,287.17 396.70,286.65 397.20,286.13 397.70,285.59 398.20,285.04 398.70,284.49 399.20,283.94 399.70,283.38 400.20,282.82 400.70,282.27 401.20,281.72 401.70,281.18 402.20,280.65 402.70,280.13 403.20,279.62 403.70,279.14 404.20,278.68 404.70,278.24 405.20,277.82 405.70,277.44 406.20,277.08 406.70,276.77 407.20,276.48 407.70,276.24 408.20,276.04 408.70,275.88 409.20,275.76 409.70,275.68 410.20,275.66 410.70,275.67 411.20,275.74 411.70,275.85 412.20,276.00 412.70,276.20 413.20,276.44 413.70,276.72 414.20,277.04 414.70,277.40 415.20,277.79 415.70,278.21 416.20,278.67 416.70,279.15 417.20,279.66 417.70,280.19 418.20,280.74 418.70,281.30 419.20,281.88 419.70,282.48 420.20,283.08 420.70,283.68 421.20,284.29 421.70,284.90 422.20,285.51 422.70,286.12 423.20,286.72 423.70,287.32 424.20,287.90 424.70,288.48 425.20,289.04 425.70,289.59 426.20,290.13 426.70,290.65 427.20,291.16 427.70,291.64 428.20,292.12 428.70,292.57 429.20,293.01 429.70,293.43 430.20,293.83 430.70,294.21 431.20,294.57 431.70,294.92 432.20,295.25 432.70,295.56 433.20,295.86 433.70,296.14 434.20,296.41 434.70,296.66 435.20,296.89 435.70,297.12 436.20,297.33 436.70,297.52 437.20,297.71 437.70,297.88 438.20,298.05 438.70,298.21 439.20,298.35 439.70,298.49 440.20,298.62 440.70,298.74 441.20,298.86 441.70,298.97 442.20,299.07 442.70,299.17 443.20,299.27 443.70,299.36 444.20,299.44 444.70,299.52 445.20,299.60 445.70,299.67 446.20,299.75 446.70,299.82 447.20,299.88 447.70,299.95 448.20,300.01 448.70,300.07 449.20,300.13 449.70,300.18 450.20,300.24 450.70,300.29 451.20,300.34 451.70,300.40 452.20,300.45 452.70,300.49 453.20,300.54 453.70,300.59 454.20,300.63 454.70,300.68 455.20,300.72 455.70,300.76 456.20,300.80 456.70,300.84 457.20,300.88 457.70,300.92 458.20,300.96 458.70,301.00 459.20,301.03 459.70,301.07 460.20,301.10 460.70,301.14 461.20,301.17 461.70,301.20 462.20,301.24 462.70,301.27 463.20,301.30 463.70,301.33 464.20,301.35 464.70,301.38 465.20,301.41 465.70,301.44 466.20,301.46 466.70,301.49 467.20,301.51 467.70,301.53 468.20,301.56 468.70,301.58 469.20,301.60 469.70,301.62 470.20,301.64 470.70,301.66 471.20,301.68 471.70,301.70 472.20,301.72 472.70,301.74 473.20,301.75 473.70,301.77 474.20,301.78 474.70,301.80 475.20,301.81 475.70,301.83 476.20,301.84 476.70,301.86 477.20,301.87 477.70,301.88 478.20,301.89 478.70,301.90 479.20,301.92 479.70,301.93 480.20,301.94 480.70,301.95 481.20,301.96 481.70,301.96 482.20,301.97 482.70,301.98 483.20,301.99 483.70,302.00 484.20,302.00 484.70,302.01 485.20,302.02 485.70,302.02 486.20,302.03 486.70,302.04 487.20,302.04 487.70,302.05 488.20,302.05 488.70,302.06 489.20,302.06 489.70,302.07 490.20,302.07 490.70,302.08 491.20,302.08 491.70,302.08 492.20,302.09 492.70,302.09 493.20,302.09 493.70,302.10 494.20,302.10 494.70,302.10 495.20,302.11 495.70,302.11" fill="none" stroke="#ff8000" stroke-width="1.3" stroke-linejoin="round" stroke-linecap="round"/>
<polyline points="327.20,296.18 327.70,296.18 328.20,296.18 328.70,296.18 329.20,296.18 329.70,296.18 330.20,296.17 330.70,296.17 331.20,296.17 331.70,296.17 332.20,296.17 332.70,296.17 333.20,296.16 333.70,296.16 334.20,296.16 334.70,296.16 335.20,296.16 335.70,296.15 336.20,296.15 336.70,296.15 337.20,296.15 337.70,296.14 338.20,296.14 338.70,296.14 339.20,296.14 339.70,296.13 340.20,296.13 340.70,296.13 341.20,296.12 341.70,296.12 342.20,296.12 342.70,296.11 343.20,296.11 343.70,296.11 344.20,296.10 344.70,296.10 345.20,296.09 345.70,296.09 346.20,296.08 346.70,296.08 347.20,296.07 347.70,296.07 348.20,296.06 348.70,296.05 349.20,296.05 349.70,296.04 350.20,296.03 350.70,296.02 351.20,296.01 351.70,296.00 352.20,295.98 352.70,295.97 353.20,295.95 353.70,295.94 354.20,295.92 354.70,295.90 355.20,295.88 355.70,295.85 356.20,295.82 356.70,295.79 357.20,295.76 357.70,295.72 358.20,295.68 358.70,295.64 359.20,295.59 359.70,295.54 360.20,295.48 360.70,295.42 361.20,295.35 361.70,295.28 362.20,295.19 362.70,295.11 363.20,295.01 363.70,294.91 364.20,294.80 364.70,294.68 365.20,294.55 365.70,294.42 366.20,294.27 366.70,294.12 367.20,293.95 367.70,293.78 368.20,293.60 368.70,293.40 369.20,293.20 369.70,292.98 370.20,292.76 370.70,292.52 371.20,292.28 371.70,292.03 372.20,291.77 372.70,291.50 373.20,291.22 373.70,290.93 374.20,290.64 374.70,290.35 375.20,290.05 375.70,289.74 376.20,289.44 376.70,289.13 377.20,288.83 377.70,288.53 378.20,288.23 378.70,287.93 379.20,287.64 379.70,287.36 380.20,287.09 380.70,286.83 381.20,286.59 381.70,286.36 382.20,286.14 382.70,285.95 383.20,285.77 383.70,285.62 384.20,285.49 384.70,285.38 385.20,285.30 385.70,285.25 386.20,285.22 386.70,285.21 387.20,285.24 387.70,285.29 388.20,285.37 388.70,285.47 389.20,285.60 389.70,285.75 390.20,285.92 390.70,286.12 391.20,286.33 391.70,286.56 392.20,286.81 392.70,287.07 393.20,287.35 393.70,287.64 394.20,287.93 394.70,288.23 395.20,288.54 395.70,288.86 396.20,289.17 396.70,289.49 397.20,289.81 397.70,290.12 398.20,290.44 398.70,290.75 399.20,291.06 399.70,291.36 400.20,291.65 400.70,291.94 401.20,292.22 401.70,292.49 402.20,292.76 402.70,293.01 403.20,293.26 403.70,293.50 404.20,293.73 404.70,293.94 405.20,294.15 405.70,294.35 406.20,294.54 406.70,294.72 407.20,294.89 407.70,295.05 408.20,295.21 408.70,295.35 409.20,295.49 409.70,295.62 410.20,295.75 410.70,295.86 411.20,295.97 411.70,296.08 412.20,296.18 412.70,296.27 413.20,296.36 413.70,296.45 414.20,296.53 414.70,296.60 415.20,296.68 415.70,296.75 416.20,296.82 416.70,296.88 417.20,296.95 417.70,297.01 418.20,297.07 418.70,297.12 419.20,297.18 419.70,297.24 420.20,297.29 420.70,297.35 421.20,297.40 421.70,297.45 422.20,297.50 422.70,297.56 423.20,297.61 423.70,297.66 424.20,297.71 424.70,297.76 425.20,297.81 425.70,297.87 426.20,297.92 426.70,297.97 427.20,298.02 427.70,298.07 428.20,298.12 428.70,298.18 429.20,298.23 429.70,298.28 430.20,298.33 430.70,298.39 431.20,298.44 431.70,298.49 432.20,298.55 432.70,298.60 433.20,298.65 433.70,298.71 434.20,298.76 434.70,298.81 435.20,298.87 435.70,298.92 436.20,298.98 436.70,299.03 437.20,299.08 437.70,299.14 438.20,299.19 438.70,299.25 439.20,299.30 439.70,299.35 440.20,299.41 440.70,299.46 441.20,299.51 441.70,299.56 442.20,299.62 442.70,299.67 443.20,299.72 443.70,299.77 444.20,299.82 444.70,299.87 445.20,299.93 445.70,299.98 446.20,300.02 446.70,300.07 447.20,300.12 447.70,300.17 448.20,300.22 448.70,300.27 449.20,300.31 449.70,300.36 450.20,300.40 450.70,300.45 451.20,300.49 451.70,300.54 452.20,300.58 452.70,300.62 453.20,300.67 453.70,300.71 454.20,300.75 454.70,300.79 455.20,300.83 455.70,300.87 456.20,300.91 456.70,300.94 457.20,300.98 457.70,301.02 458.20,301.05 458.70,301.09 459.20,301.12 459.70,301.15 460.20,301.19 460.70,301.22 461.20,301.25 461.70,301.28 462.20,301.31 462.70,301.34 463.20,301.37 463.70,301.40 464.20,301.42 464.70,301.45 465.20,301.47 465.70,301.50 466.20,301.52 466.70,301.55 467.20,301.57 467.70,301.59 468.20,301.61 468.70,301.64 469.20,301.66 469.70,301.68 470.20,301.70 470.70,301.71 471.20,301.73 471.70,301.75 472.20,301.77 472.70,301.78 473.20,301.80 473.70,301.82 474.20,301.83 474.70,301.84 475.20,301.86 475.70,301.87 476.20,301.88 476.70,301.90 477.20,301.91 477.70,301.92 478.20,301.93 478.70,301.94 479.20,301.95 479.70,301.96 480.20,301.97 480.70,301.98 481.20,301.99 481.70,302.00 482.20,302.01 482.70,302.02 483.20,302.02 483.70,302.03 484.20,302.04 484.70,302.04 485.20,302.05 485.70,302.06 486.20,302.06 486.70,302.07 487.20,302.07 487.70,302.08 488.20,302.08 488.70,302.09 489.20,302.09 489.70,302.09 490.20,302.10 490.70,302.10 491.20,302.11 491.70,302.11 492.20,302.11 492.70,302.12 493.20,302.12 493.70,302.12 494.20,302.12 494.70,302.13 495.20,302.13 495.70,302.13" fill="none" stroke="#22ee22" stroke-width="1.3" stroke-linejoin="round" stroke-linecap="round"/>
<polyline points="327.20,296.09 327.70,296.09 328.20,296.08 328.70,296.08 329.20,296.07 329.70,296.06 330.20,296.06 330.70,296.05 331.20,296.04 331.70,296.03 332.20,296.03 332.70,296.02 333.20,296.00 333.70,295.99 334.20,295.98 334.70,295.97 335.20,295.95 335.70,295.94 336.20,295.92 336.70,295.90 337.20,295.88 337.70,295.86 338.20,295.83 338.70,295.80 339.20,295.77 339.70,295.74 340.20,295.71 340.70,295.67 341.20,295.63 341.70,295.58 342.20,295.53 342.70,295.48 343.20,295.42 343.70,295.36 344.20,295.29 344.70,295.22 345.20,295.15 345.70,295.06 346.20,294.98 346.70,294.88 347.20,294.79 347.70,294.68 348.20,294.57 348.70,294.45 349.20,294.33 349.70,294.20 350.20,294.07 350.70,293.92 351.20,293.78 351.70,293.62 352.20,293.47 352.70,293.30 353.20,293.14 353.70,292.96 354.20,292.79 354.70,292.61 355.20,292.43 355.70,292.24 356.20,292.06 356.70,291.87 357.20,291.68 357.70,291.50 358.20,291.31 358.70,291.14 359.20,290.96 359.70,290.79 360.20,290.63 360.70,290.47 361.20,290.32 361.70,290.19 362.20,290.06 362.70,289.95 363.20,289.85 363.70,289.76 364.20,289.69 364.70,289.64 365.20,289.61 365.70,289.59 366.20,289.59 366.70,289.60 367.20,289.64 367.70,289.69 368.20,289.76 368.70,289.84 369.20,289.94 369.70,290.05 370.20,290.18 370.70,290.31 371.20,290.46 371.70,290.62 372.20,290.78 372.70,290.95 373.20,291.13 373.70,291.31 374.20,291.49 374.70,291.68 375.20,291.86 375.70,292.05 376.20,292.24 376.70,292.43 377.20,292.61 377.70,292.79 378.20,292.97 378.70,293.14 379.20,293.32 379.70,293.48 380.20,293.64 380.70,293.80 381.20,293.95 381.70,294.09 382.20,294.23 382.70,294.36 383.20,294.49 383.70,294.61 384.20,294.73 384.70,294.83 385.20,294.94 385.70,295.04 386.20,295.13 386.70,295.21 387.20,295.30 387.70,295.37 388.20,295.44 388.70,295.51 389.20,295.57 389.70,295.63 390.20,295.69 390.70,295.74 391.20,295.79 391.70,295.83 392.20,295.88 392.70,295.92 393.20,295.96 393.70,295.99 394.20,296.02 394.70,296.06 395.20,296.09 395.70,296.12 396.20,296.14 396.70,296.17 397.20,296.20 397.70,296.22 398.20,296.25 398.70,296.27 399.20,296.29 399.70,296.32 400.20,296.34 400.70,296.36 401.20,296.38 401.70,296.40 402.20,296.43 402.70,296.45 403.20,296.47 403.70,296.49 404.20,296.52 404.70,296.54 405.20,296.56 405.70,296.59 406.20,296.61 406.70,296.64 407.20,296.66 407.70,296.69 408.20,296.71 408.70,296.74 409.20,296.77 409.70,296.79 410.20,296.82 410.70,296.85 411.20,296.88 411.70,296.91 412.20,296.94 412.70,296.97 413.20,297.00 413.70,297.03 414.20,297.07 414.70,297.10 415.20,297.13 415.70,297.17 416.20,297.20 416.70,297.24 417.20,297.28 417.70,297.31 418.20,297.35 418.70,297.39 419.20,297.43 419.70,297.47 420.20,297.51 420.70,297.55 421.20,297.59 421.70,297.63 422.20,297.67 422.70,297.72 423.20,297.76 423.70,297.81 424.20,297.85 424.70,297.90 425.20,297.94 425.70,297.99 426.20,298.03 426.70,298.08 427.20,298.13 427.70,298.18 428.20,298.23 428.70,298.27 429.20,298.32 429.70,298.37 430.20,298.42 430.70,298.47 431.20,298.52 431.70,298.58 432.20,298.63 432.70,298.68 433.20,298.73 433.70,298.78 434.20,298.83 434.70,298.89 435.20,298.94 435.70,298.99 436.20,299.04 436.70,299.09 437.20,299.15 437.70,299.20 438.20,299.25 438.70,299.30 439.20,299.36 439.70,299.41 440.20,299.46 440.70,299.51 441.20,299.56 441.70,299.62 442.20,299.67 442.70,299.72 443.20,299.77 443.70,299.82 444.20,299.87 444.70,299.92 445.20,299.97 445.70,300.02 446.20,300.07 446.70,300.12 447.20,300.16 447.70,300.21 448.20,300.26 448.70,300.30 449.20,300.35 449.70,300.40 450.20,300.44 450.70,300.49 451.20,300.53 451.70,300.57 452.20,300.62 452.70,300.66 453.20,300.70 453.70,300.74 454.20,300.78 454.70,300.82 455.20,300.86 455.70,300.90 456.20,300.94 456.70,300.97 457.20,301.01 457.70,301.04 458.20,301.08 458.70,301.11 459.20,301.15 459.70,301.18 460.20,301.21 460.70,301.24 461.20,301.27 461.70,301.30 462.20,301.33 462.70,301.36 463.20,301.39 463.70,301.42 464.20,301.44 464.70,301.47 465.20,301.50 465.70,301.52 466.20,301.54 466.70,301.57 467.20,301.59 467.70,301.61 468.20,301.63 468.70,301.66 469.20,301.68 469.70,301.70 470.20,301.71 470.70,301.73 471.20,301.75 471.70,301.77 472.20,301.79 472.70,301.80 473.20,301.82 473.70,301.83 474.20,301.85 474.70,301.86 475.20,301.87 475.70,301.89 476.20,301.90 476.70,301.91 477.20,301.92 477.70,301.94 478.20,301.95 478.70,301.96 479.20,301.97 479.70,301.98 480.20,301.99 480.70,302.00 481.20,302.00 481.70,302.01 482.20,302.02 482.70,302.03 483.20,302.04 483.70,302.04 484.20,302.05 484.70,302.06 485.20,302.06 485.70,302.07 486.20,302.07 486.70,302.08 487.20,302.08 487.70,302.09 488.20,302.09 488.70,302.10 489.20,302.10 489.70,302.11 490.20,302.11 490.70,302.11 491.20,302.12 491.70,302.12 492.20,302.12 492.70,302.13 493.20,302.13 493.70,302.13 494.20,302.13 494.70,302.14 495.20,302.14 495.70,302.14" fill="none" stroke="#ee80ee" stroke-width="1.3" stroke-linejoin="round" stroke-linecap="round"/>
<polyline points="327.20,296.23 327.70,296.23 328.20,296.23 328.70,296.23 329.20,296.23 329.70,296.23 330.20,296.23 330.70,296.23 331.20,296.23 331.70,296.23 332.20,296.23 332.70,296.23 333.20,296.23 333.70,296.23 334.20,296.23 334.70,296.23 335.20,296.23 335.70,296.22 336.20,296.22 336.70,296.22 337.20,296.22 337.70,296.22 338.20,296.22 338.70,296.22 339.20,296.22 339.70,296.22 340.20,296.22 340.70,296.22 341.20,296.22 341.70,296.22 342.20,296.22 342.70,296.22 343.20,296.22 343.70,296.22 344.20,296.22 344.70,296.22 345.20,296.21 345.70,296.21 346.20,296.21 346.70,296.21 347.20,296.21 347.70,296.21 348.20,296.21 348.70,296.21 349.20,296.21 349.70,296.21 350.20,296.21 350.70,296.21 351.20,296.21 351.70,296.21 352.20,296.21 352.70,296.20 353.20,296.20 353.70,296.20 354.20,296.20 354.70,296.20 355.20,296.20 355.70,296.20 356.20,296.20 356.70,296.20 357.20,296.20 357.70,296.20 358.20,296.20 358.70,296.20 359.20,296.19 359.70,296.19 360.20,296.19 360.70,296.19 361.20,296.19 361.70,296.19 362.20,296.19 362.70,296.19 363.20,296.19 363.70,296.19 364.20,296.19 364.70,296.18 365.20,296.18 365.70,296.18 366.20,296.18 366.70,296.18 367.20,296.18 367.70,296.18 368.20,296.18 368.70,296.18 369.20,296.18 369.70,296.18 370.20,296.17 370.70,296.17 371.20,296.17 371.70,296.17 372.20,296.17 372.70,296.17 373.20,296.17 373.70,296.17 374.20,296.17 374.70,296.17 375.20,296.17 375.70,296.16 376.20,296.16 376.70,296.16 377.20,296.16 377.70,296.16 378.20,296.16 378.70,296.16 379.20,296.16 379.70,296.16 380.20,296.16 380.70,296.16 381.20,296.16 381.70,296.16 382.20,296.16 382.70,296.16 383.20,296.16 383.70,296.16 384.20,296.16 384.70,296.16 385.20,296.16 385.70,296.16 386.20,296.16 386.70,296.16 387.20,296.16 387.70,296.16 388.20,296.16 388.70,296.16 389.20,296.16 389.70,296.17 390.20,296.17 390.70,296.17 391.20,296.17 391.70,296.17 392.20,296.17 392.70,296.18 393.20,296.18 393.70,296.18 394.20,296.18 394.70,296.19 395.20,296.19 395.70,296.19 396.20,296.19 396.70,296.20 397.20,296.20 397.70,296.20 398.20,296.21 398.70,296.21 399.20,296.21 399.70,296.22 400.20,296.22 400.70,296.22 401.20,296.23 401.70,296.23 402.20,296.23 402.70,296.23 403.20,296.24 403.70,296.24 404.20,296.24 404.70,296.23 405.20,296.23 405.70,296.22 406.20,296.21 406.70,296.20 407.20,296.18 407.70,296.15 408.20,296.12 408.70,296.08 409.20,296.02 409.70,295.95 410.20,295.87 410.70,295.76 411.20,295.64 411.70,295.48 412.20,295.29 412.70,295.06 413.20,294.79 413.70,294.47 414.20,294.08 414.70,293.63 415.20,293.11 415.70,292.50 416.20,291.79 416.70,290.97 417.20,290.04 417.70,288.97 418.20,287.76 418.70,286.40 419.20,284.88 419.70,283.18 420.20,281.30 420.70,279.23 421.20,276.95 421.70,274.48 422.20,271.79 422.70,268.90 423.20,265.81 423.70,262.52 424.20,259.04 424.70,255.39 425.20,251.58 425.70,247.63 426.20,243.57 426.70,239.43 427.20,235.24 427.70,231.03 428.20,226.84 428.70,222.72 429.20,218.70 429.70,214.83 430.20,211.15 430.70,207.71 431.20,204.55 431.70,201.72 432.20,199.24 432.70,197.16 433.20,195.51 433.70,194.31 434.20,193.59 434.70,193.34 435.20,193.58 435.70,194.31 436.20,195.51 436.70,197.17 437.20,199.26 437.70,201.76 438.20,204.62 438.70,207.82 439.20,211.30 439.70,215.03 440.20,218.97 440.70,223.06 441.20,227.26 441.70,231.54 442.20,235.84 442.70,240.14 443.20,244.39 443.70,248.56 444.20,252.63 444.70,256.57 445.20,260.35 445.70,263.96 446.20,267.38 446.70,270.61 447.20,273.63 447.70,276.44 448.20,279.05 448.70,281.46 449.20,283.66 449.70,285.66 450.20,287.48 450.70,289.12 451.20,290.60 451.70,291.91 452.20,293.09 452.70,294.12 453.20,295.04 453.70,295.84 454.20,296.55 454.70,297.16 455.20,297.70 455.70,298.16 456.20,298.57 456.70,298.92 457.20,299.22 457.70,299.48 458.20,299.70 458.70,299.90 459.20,300.06 459.70,300.21 460.20,300.34 460.70,300.45 461.20,300.55 461.70,300.64 462.20,300.72 462.70,300.79 463.20,300.85 463.70,300.91 464.20,300.96 464.70,301.01 465.20,301.06 465.70,301.10 466.20,301.14 466.70,301.18 467.20,301.22 467.70,301.25 468.20,301.28 468.70,301.32 469.20,301.35 469.70,301.38 470.20,301.40 470.70,301.43 471.20,301.46 471.70,301.48 472.20,301.51 472.70,301.53 473.20,301.55 473.70,301.58 474.20,301.60 474.70,301.62 475.20,301.64 475.70,301.66 476.20,301.68 476.70,301.69 477.20,301.71 477.70,301.73 478.20,301.74 478.70,301.76 479.20,301.77 479.70,301.79 480.20,301.80 480.70,301.81 481.20,301.83 481.70,301.84 482.20,301.85 482.70,301.86 483.20,301.87 483.70,301.88 484.20,301.89 484.70,301.90 485.20,301.91 485.70,301.92 486.20,301.93 486.70,301.94 487.20,301.95 487.70,301.95 488.20,301.96 488.70,301.97 489.20,301.97 489.70,301.98 490.20,301.99 490.70,301.99 491.20,302.00 491.70,302.00 492.20,302.01 492.70,302.01 493.20,302.02 493.70,302.02 494.20,302.03 494.70,302.03 495.20,302.04 495.70,302.04" fill="none" stroke="#0000ff" stroke-width="1.5" stroke-linejoin="round" stroke-linecap="round"/>
<polyline points="327.20,295.92 327.70,295.91 328.20,295.90 328.70,295.89 329.20,295.88 329.70,295.88 330.20,295.87 330.70,295.86 331.20,295.85 331.70,295.83 332.20,295.82 332.70,295.81 333.20,295.80 333.70,295.78 334.20,295.77 334.70,295.75 335.20,295.73 335.70,295.71 336.20,295.69 336.70,295.67 337.20,295.64 337.70,295.62 338.20,295.59 338.70,295.56 339.20,295.52 339.70,295.49 340.20,295.45 340.70,295.40 341.20,295.36 341.70,295.31 342.20,295.25 342.70,295.19 343.20,295.13 343.70,295.07 344.20,294.99 344.70,294.92 345.20,294.83 345.70,294.74 346.20,294.65 346.70,294.55 347.20,294.44 347.70,294.33 348.20,294.21 348.70,294.09 349.20,293.95 349.70,293.81 350.20,293.67 350.70,293.51 351.20,293.35 351.70,293.19 352.20,293.01 352.70,292.83 353.20,292.65 353.70,292.46 354.20,292.26 354.70,292.05 355.20,291.85 355.70,291.63 356.20,291.42 356.70,291.20 357.20,290.98 357.70,290.75 358.20,290.53 358.70,290.30 359.20,290.07 359.70,289.85 360.20,289.62 360.70,289.40 361.20,289.18 361.70,288.96 362.20,288.75 362.70,288.55 363.20,288.35 363.70,288.16 364.20,287.97 364.70,287.80 365.20,287.63 365.70,287.47 366.20,287.32 366.70,287.17 367.20,287.03 367.70,286.90 368.20,286.78 368.70,286.66 369.20,286.54 369.70,286.43 370.20,286.32 370.70,286.21 371.20,286.10 371.70,285.99 372.20,285.88 372.70,285.76 373.20,285.64 373.70,285.52 374.20,285.39 374.70,285.26 375.20,285.12 375.70,284.98 376.20,284.83 376.70,284.67 377.20,284.52 377.70,284.35 378.20,284.18 378.70,284.01 379.20,283.84 379.70,283.66 380.20,283.49 380.70,283.31 381.20,283.13 381.70,282.96 382.20,282.78 382.70,282.62 383.20,282.45 383.70,282.29 384.20,282.14 384.70,281.99 385.20,281.86 385.70,281.72 386.20,281.60 386.70,281.48 387.20,281.37 387.70,281.27 388.20,281.17 388.70,281.07 389.20,280.98 389.70,280.89 390.20,280.80 390.70,280.71 391.20,280.61 391.70,280.52 392.20,280.41 392.70,280.30 393.20,280.18 393.70,280.06 394.20,279.92 394.70,279.77 395.20,279.61 395.70,279.43 396.20,279.24 396.70,279.04 397.20,278.83 397.70,278.60 398.20,278.36 398.70,278.12 399.20,277.86 399.70,277.59 400.20,277.31 400.70,277.03 401.20,276.74 401.70,276.46 402.20,276.17 402.70,275.88 403.20,275.60 403.70,275.32 404.20,275.06 404.70,274.80 405.20,274.56 405.70,274.33 406.20,274.12 406.70,273.93 407.20,273.76 407.70,273.62 408.20,273.49 408.70,273.39 409.20,273.31 409.70,273.26 410.20,273.22 410.70,273.20 411.20,273.20 411.70,273.20 412.20,273.21 412.70,273.22 413.20,273.22 413.70,273.21 414.20,273.17 414.70,273.09 415.20,272.97 415.70,272.79 416.20,272.54 416.70,272.21 417.20,271.78 417.70,271.24 418.20,270.57 418.70,269.76 419.20,268.80 419.70,267.68 420.20,266.38 420.70,264.88 421.20,263.20 421.70,261.30 422.20,259.20 422.70,256.89 423.20,254.36 423.70,251.63 424.20,248.71 424.70,245.60 425.20,242.31 425.70,238.88 426.20,235.32 426.70,231.66 427.20,227.94 427.70,224.17 428.20,220.42 428.70,216.71 429.20,213.08 429.70,209.58 430.20,206.26 430.70,203.16 431.20,200.32 431.70,197.79 432.20,195.60 432.70,193.78 433.20,192.38 433.70,191.42 434.20,190.91 434.70,190.87 435.20,191.30 435.70,192.20 436.20,193.56 436.70,195.37 437.20,197.60 437.70,200.22 438.20,203.20 438.70,206.50 439.20,210.09 439.70,213.91 440.20,217.92 440.70,222.09 441.20,226.36 441.70,230.69 442.20,235.05 442.70,239.40 443.20,243.70 443.70,247.91 444.20,252.02 444.70,255.99 445.20,259.80 445.70,263.44 446.20,266.89 446.70,270.13 447.20,273.18 447.70,276.01 448.20,278.64 448.70,281.06 449.20,283.27 449.70,285.29 450.20,287.13 450.70,288.78 451.20,290.26 451.70,291.59 452.20,292.77 452.70,293.81 453.20,294.74 453.70,295.55 454.20,296.26 454.70,296.88 455.20,297.42 455.70,297.90 456.20,298.30 456.70,298.66 457.20,298.96 457.70,299.23 458.20,299.46 458.70,299.66 459.20,299.83 459.70,299.98 460.20,300.11 460.70,300.23 461.20,300.33 461.70,300.42 462.20,300.50 462.70,300.58 463.20,300.64 463.70,300.70 464.20,300.76 464.70,300.81 465.20,300.86 465.70,300.91 466.20,300.95 466.70,300.99 467.20,301.03 467.70,301.07 468.20,301.11 468.70,301.14 469.20,301.17 469.70,301.21 470.20,301.24 470.70,301.27 471.20,301.29 471.70,301.32 472.20,301.35 472.70,301.37 473.20,301.40 473.70,301.42 474.20,301.45 474.70,301.47 475.20,301.49 475.70,301.51 476.20,301.53 476.70,301.55 477.20,301.57 477.70,301.59 478.20,301.61 478.70,301.62 479.20,301.64 479.70,301.65 480.20,301.67 480.70,301.68 481.20,301.70 481.70,301.71 482.20,301.73 482.70,301.74 483.20,301.75 483.70,301.76 484.20,301.77 484.70,301.79 485.20,301.80 485.70,301.81 486.20,301.82 486.70,301.83 487.20,301.83 487.70,301.84 488.20,301.85 488.70,301.86 489.20,301.87 489.70,301.88 490.20,301.88 490.70,301.89 491.20,301.90 491.70,301.90 492.20,301.91 492.70,301.92 493.20,301.92 493.70,301.93 494.20,301.93 494.70,301.94 495.20,301.94 495.70,301.95" fill="none" stroke="#0000ff" stroke-width="2" stroke-linejoin="round" stroke-linecap="round"/>
<text x="331.9" y="199.8" font-size="11.5" font-weight="bold" fill="#0000ff" text-anchor="start" >NTO-8h</text>
<text x="338" y="213.2" font-size="11.3" font-weight="normal" fill="#1a1a1a" text-anchor="start" >O 1s</text>
<text x="439" y="202.7" font-size="11.3" font-weight="normal" fill="#1a1a1a" text-anchor="start" >Ti-O</text>
<text x="397.4" y="254.6" font-size="11.3" font-weight="normal" fill="#1a1a1a" text-anchor="start" >C-O,</text>
<text x="401.4" y="267.3" font-size="11.3" font-weight="normal" fill="#1a1a1a" text-anchor="start" >-OH</text>
<text x="368.3" y="278.2" font-size="11.3" font-weight="normal" fill="#1a1a1a" text-anchor="start" >O-C=O</text>
<text x="335.3" y="286.3" font-size="11.3" font-weight="normal" fill="#1a1a1a" text-anchor="start" >Na KLL</text>
<text x="4.4" y="386.2" font-size="12.5" fill="#1a1a1a" textLength="15.10" lengthAdjust="spacingAndGlyphs" stroke="#1a1a1a" stroke-width="0.25">(e)</text>
<rect x="29.8" y="370.7" width="196.80" height="142.40" fill="none" stroke="#969696" stroke-width="1.1"/>
<path d="M226.60,513.10v3.2 M221.13,513.10v1.8 M215.67,513.10v1.8 M210.20,513.10v1.8 M204.73,513.10v1.8 M199.27,513.10v1.8 M193.80,513.10v3.2 M188.33,513.10v1.8 M182.87,513.10v1.8 M177.40,513.10v1.8 M171.93,513.10v1.8 M166.47,513.10v1.8 M161.00,513.10v3.2 M155.53,513.10v1.8 M150.07,513.10v1.8 M144.60,513.10v1.8 M139.13,513.10v1.8 M133.67,513.10v1.8 M128.20,513.10v3.2 M122.73,513.10v1.8 M117.27,513.10v1.8 M111.80,513.10v1.8 M106.33,513.10v1.8 M100.87,513.10v1.8 M95.40,513.10v3.2 M89.93,513.10v1.8 M84.47,513.10v1.8 M79.00,513.10v1.8 M73.53,513.10v1.8 M68.07,513.10v1.8 M62.60,513.10v3.2 M57.13,513.10v1.8 M51.67,513.10v1.8 M46.20,513.10v1.8 M40.73,513.10v1.8 M35.27,513.10v1.8 M29.80,513.10v3.2" stroke="#555" stroke-width="0.9" fill="none"/>
<text x="29.30" y="528.9" font-size="10" font-weight="normal" fill="#1a1a1a" text-anchor="middle" >1078</text>
<text x="62.40" y="528.9" font-size="10" font-weight="normal" fill="#1a1a1a" text-anchor="middle" >1076</text>
<text x="96.20" y="528.9" font-size="10" font-weight="normal" fill="#1a1a1a" text-anchor="middle" >1074</text>
<text x="130.00" y="528.9" font-size="10" font-weight="normal" fill="#1a1a1a" text-anchor="middle" >1072</text>
<text x="163.00" y="528.9" font-size="10" font-weight="normal" fill="#1a1a1a" text-anchor="middle" >1070</text>
<text x="194.00" y="528.9" font-size="10" font-weight="normal" fill="#1a1a1a" text-anchor="middle" >1068</text>
<text x="230.50" y="528.9" font-size="10" font-weight="normal" fill="#1a1a1a" text-anchor="middle" >1066</text>
<text x="127.8" y="540.8" font-size="10" font-weight="bold" fill="#1a1a1a" text-anchor="middle" >Binging energy / eV</text>
<text x="25.1" y="440.9" font-size="10.3" font-weight="bold" fill="#1a1a1a" text-anchor="middle" transform="rotate(-90 25.1 440.9)">Intensity / a.u.</text>
<polyline points="30.60,477.58 31.10,477.58 31.60,477.58 32.10,477.57 32.60,477.57 33.10,477.57 33.60,477.57 34.10,477.57 34.60,477.56 35.10,477.56 35.60,477.56 36.10,477.56 36.60,477.55 37.10,477.55 37.60,477.55 38.10,477.54 38.60,477.54 39.10,477.54 39.60,477.53 40.10,477.53 40.60,477.53 41.10,477.52 41.60,477.52 42.10,477.51 42.60,477.51 43.10,477.51 43.60,477.50 44.10,477.50 44.60,477.49 45.10,477.49 45.60,477.48 46.10,477.48 46.60,477.47 47.10,477.47 47.60,477.46 48.10,477.45 48.60,477.45 49.10,477.44 49.60,477.44 50.10,477.43 50.60,477.42 51.10,477.42 51.60,477.41 52.10,477.40 52.60,477.39 53.10,477.39 53.60,477.38 54.10,477.37 54.60,477.36 55.10,477.35 55.60,477.34 56.10,477.33 56.60,477.33 57.10,477.32 57.60,477.31 58.10,477.30 58.60,477.29 59.10,477.27 59.60,477.26 60.10,477.25 60.60,477.24 61.10,477.23 61.60,477.22 62.10,477.20 62.60,477.19 63.10,477.18 63.60,477.17 64.10,477.15 64.60,477.14 65.10,477.12 65.60,477.11 66.10,477.09 66.60,477.08 67.10,477.06 67.60,477.04 68.10,477.03 68.60,477.01 69.10,476.99 69.60,476.97 70.10,476.95 70.60,476.93 71.10,476.91 71.60,476.89 72.10,476.87 72.60,476.85 73.10,476.83 73.60,476.80 74.10,476.78 74.60,476.76 75.10,476.73 75.60,476.71 76.10,476.68 76.60,476.65 77.10,476.62 77.60,476.60 78.10,476.57 78.60,476.54 79.10,476.50 79.60,476.47 80.10,476.44 80.60,476.41 81.10,476.37 81.60,476.33 82.10,476.30 82.60,476.26 83.10,476.22 83.60,476.18 84.10,476.14 84.60,476.09 85.10,476.05 85.60,476.00 86.10,475.96 86.60,475.91 87.10,475.86 87.60,475.80 88.10,475.75 88.60,475.69 89.10,475.64 89.60,475.58 90.10,475.52 90.60,475.45 91.10,475.39 91.60,475.32 92.10,475.25 92.60,475.18 93.10,475.10 93.60,475.03 94.10,474.94 94.60,474.86 95.10,474.77 95.60,474.68 96.10,474.59 96.60,474.49 97.10,474.39 97.60,474.28 98.10,474.17 98.60,474.06 99.10,473.93 99.60,473.81 100.10,473.68 100.60,473.54 101.10,473.39 101.60,473.24 102.10,473.08 102.60,472.91 103.10,472.73 103.60,472.54 104.10,472.34 104.60,472.13 105.10,471.90 105.60,471.66 106.10,471.41 106.60,471.14 107.10,470.86 107.60,470.55 108.10,470.23 108.60,469.89 109.10,469.52 109.60,469.13 110.10,468.71 110.60,468.26 111.10,467.78 111.60,467.28 112.10,466.73 112.60,466.16 113.10,465.54 113.60,464.88 114.10,464.18 114.60,463.44 115.10,462.65 115.60,461.81 116.10,460.92 116.60,459.97 117.10,458.97 117.60,457.91 118.10,456.79 118.60,455.61 119.10,454.37 119.60,453.06 120.10,451.68 120.60,450.24 121.10,448.73 121.60,447.15 122.10,445.50 122.60,443.78 123.10,442.00 123.60,440.14 124.10,438.22 124.60,436.22 125.10,434.17 125.60,432.05 126.10,429.87 126.60,427.64 127.10,425.36 127.60,423.03 128.10,420.66 128.60,418.26 129.10,415.84 129.60,413.41 130.10,410.98 130.60,408.55 131.10,406.16 131.60,403.79 132.10,401.48 132.60,399.23 133.10,397.05 133.60,394.97 134.10,392.97 134.60,391.09 135.10,389.32 135.60,387.66 136.10,386.13 136.60,384.72 137.10,383.43 137.60,382.27 138.10,381.24 138.60,380.33 139.10,379.56 139.60,378.93 140.10,378.45 140.60,378.13 141.10,377.97 141.60,377.99 142.10,378.21 142.60,378.64 143.10,379.29 143.60,380.18 144.10,381.30 144.60,382.69 145.10,384.32 145.60,386.22 146.10,388.36 146.60,390.75 147.10,393.38 147.60,396.22 148.10,399.26 148.60,402.47 149.10,405.83 149.60,409.31 150.10,412.88 150.60,416.51 151.10,420.16 151.60,423.81 152.10,427.43 152.60,430.99 153.10,434.46 153.60,437.82 154.10,441.05 154.60,444.14 155.10,447.06 155.60,449.83 156.10,452.41 156.60,454.82 157.10,457.05 157.60,459.10 158.10,460.98 158.60,462.69 159.10,464.25 159.60,465.65 160.10,466.91 160.60,468.04 161.10,469.05 161.60,469.95 162.10,470.76 162.60,471.47 163.10,472.10 163.60,472.66 164.10,473.16 164.60,473.60 165.10,473.99 165.60,474.35 166.10,474.66 166.60,474.95 167.10,475.21 167.60,475.44 168.10,475.66 168.60,475.85 169.10,476.04 169.60,476.21 170.10,476.36 170.60,476.51 171.10,476.65 171.60,476.79 172.10,476.91 172.60,477.03 173.10,477.15 173.60,477.26 174.10,477.36 174.60,477.46 175.10,477.56 175.60,477.65 176.10,477.74 176.60,477.83 177.10,477.92 177.60,478.00 178.10,478.08 178.60,478.15 179.10,478.23 179.60,478.30 180.10,478.37 180.60,478.44 181.10,478.51 181.60,478.57 182.10,478.63 182.60,478.70 183.10,478.76 183.60,478.81 184.10,478.87 184.60,478.92 185.10,478.98 185.60,479.03 186.10,479.08 186.60,479.13 187.10,479.18 187.60,479.23 188.10,479.27 188.60,479.32 189.10,479.36 189.60,479.40 190.10,479.45 190.60,479.49 191.10,479.53 191.60,479.57 192.10,479.60 192.60,479.64 193.10,479.68 193.60,479.71 194.10,479.75 194.60,479.78 195.10,479.82 195.60,479.85 196.10,479.88 196.60,479.91 197.10,479.94 197.60,479.97 198.10,480.00 198.60,480.03 199.10,480.06 199.60,480.09 200.10,480.12 200.60,480.14 201.10,480.17 201.60,480.20 202.10,480.22 202.60,480.25 203.10,480.27 203.60,480.30 204.10,480.32 204.60,480.34 205.10,480.37 205.60,480.39 206.10,480.41 206.60,480.43 207.10,480.46 207.60,480.48 208.10,480.50 208.60,480.52 209.10,480.54 209.60,480.56 210.10,480.58 210.60,480.60 211.10,480.62 211.60,480.63 212.10,480.65 212.60,480.67 213.10,480.69 213.60,480.71 214.10,480.72 214.60,480.74 215.10,480.76 215.60,480.77 216.10,480.79 216.60,480.81 217.10,480.82 217.60,480.84 218.10,480.86 218.60,480.87 219.10,480.89 219.60,480.90 220.10,480.92 220.60,480.93 221.10,480.94 221.60,480.96 222.10,480.97 222.60,480.99 223.10,481.00 223.60,481.01 224.10,481.03 224.60,481.04 225.10,481.05 225.60,481.07" fill="none" stroke="#ff0000" stroke-width="1.6" stroke-linejoin="round" stroke-linecap="round"/>
<polyline points="30.60,505.78 31.10,505.77 31.60,505.77 32.10,505.77 32.60,505.76 33.10,505.76 33.60,505.75 34.10,505.75 34.60,505.75 35.10,505.74 35.60,505.74 36.10,505.73 36.60,505.73 37.10,505.72 37.60,505.72 38.10,505.71 38.60,505.71 39.10,505.70 39.60,505.70 40.10,505.69 40.60,505.69 41.10,505.68 41.60,505.68 42.10,505.67 42.60,505.66 43.10,505.66 43.60,505.65 44.10,505.65 44.60,505.64 45.10,505.63 45.60,505.63 46.10,505.62 46.60,505.61 47.10,505.61 47.60,505.60 48.10,505.59 48.60,505.58 49.10,505.58 49.60,505.57 50.10,505.56 50.60,505.55 51.10,505.55 51.60,505.54 52.10,505.53 52.60,505.52 53.10,505.51 53.60,505.50 54.10,505.49 54.60,505.48 55.10,505.47 55.60,505.46 56.10,505.45 56.60,505.44 57.10,505.43 57.60,505.42 58.10,505.41 58.60,505.40 59.10,505.39 59.60,505.38 60.10,505.37 60.60,505.36 61.10,505.34 61.60,505.33 62.10,505.32 62.60,505.30 63.10,505.29 63.60,505.28 64.10,505.26 64.60,505.25 65.10,505.24 65.60,505.22 66.10,505.20 66.60,505.19 67.10,505.17 67.60,505.16 68.10,505.14 68.60,505.12 69.10,505.11 69.60,505.09 70.10,505.07 70.60,505.05 71.10,505.03 71.60,505.01 72.10,504.99 72.60,504.97 73.10,504.95 73.60,504.93 74.10,504.91 74.60,504.88 75.10,504.86 75.60,504.84 76.10,504.81 76.60,504.79 77.10,504.76 77.60,504.73 78.10,504.71 78.60,504.68 79.10,504.65 79.60,504.62 80.10,504.59 80.60,504.56 81.10,504.53 81.60,504.50 82.10,504.46 82.60,504.43 83.10,504.39 83.60,504.36 84.10,504.32 84.60,504.28 85.10,504.24 85.60,504.20 86.10,504.16 86.60,504.12 87.10,504.07 87.60,504.03 88.10,503.98 88.60,503.93 89.10,503.88 89.60,503.83 90.10,503.77 90.60,503.72 91.10,503.66 91.60,503.60 92.10,503.54 92.60,503.48 93.10,503.41 93.60,503.34 94.10,503.27 94.60,503.20 95.10,503.12 95.60,503.04 96.10,502.96 96.60,502.88 97.10,502.79 97.60,502.69 98.10,502.59 98.60,502.49 99.10,502.38 99.60,502.27 100.10,502.15 100.60,502.02 101.10,501.89 101.60,501.75 102.10,501.61 102.60,501.45 103.10,501.28 103.60,501.11 104.10,500.92 104.60,500.73 105.10,500.52 105.60,500.30 106.10,500.06 106.60,499.81 107.10,499.54 107.60,499.25 108.10,498.95 108.60,498.62 109.10,498.27 109.60,497.90 110.10,497.50 110.60,497.08 111.10,496.63 111.60,496.15 112.10,495.64 112.60,495.09 113.10,494.51 113.60,493.90 114.10,493.24 114.60,492.55 115.10,491.81 115.60,491.03 116.10,490.21 116.60,489.33 117.10,488.41 117.60,487.44 118.10,486.42 118.60,485.34 119.10,484.21 119.60,483.03 120.10,481.78 120.60,480.48 121.10,479.11 121.60,477.69 122.10,476.20 122.60,474.65 123.10,473.04 123.60,471.36 124.10,469.62 124.60,467.81 125.10,465.94 125.60,464.00 126.10,462.00 126.60,459.94 127.10,457.82 127.60,455.64 128.10,453.41 128.60,451.14 129.10,448.82 129.60,446.47 130.10,444.09 130.60,441.70 131.10,439.30 131.60,436.90 132.10,434.52 132.60,432.17 133.10,429.85 133.60,427.59 134.10,425.39 134.60,423.26 135.10,421.21 135.60,419.26 136.10,417.41 136.60,415.67 137.10,414.05 137.60,412.55 138.10,411.19 138.60,409.96 139.10,408.89 139.60,407.96 140.10,407.21 140.60,406.63 141.10,406.24 141.60,406.04 142.10,406.06 142.60,406.30 143.10,406.78 143.60,407.50 144.10,408.47 144.60,409.70 145.10,411.18 145.60,412.92 146.10,414.91 146.60,417.13 147.10,419.57 147.60,422.22 148.10,425.04 148.60,428.02 149.10,431.14 149.60,434.36 150.10,437.66 150.60,441.02 151.10,444.41 151.60,447.81 152.10,451.19 152.60,454.53 153.10,457.82 153.60,461.03 154.10,464.16 154.60,467.18 155.10,470.10 155.60,472.88 156.10,475.54 156.60,478.06 157.10,480.44 157.60,482.68 158.10,484.78 158.60,486.73 159.10,488.55 159.60,490.22 160.10,491.77 160.60,493.19 161.10,494.49 161.60,495.68 162.10,496.76 162.60,497.75 163.10,498.63 163.60,499.44 164.10,500.16 164.60,500.81 165.10,501.40 165.60,501.93 166.10,502.41 166.60,502.83 167.10,503.22 167.60,503.57 168.10,503.88 168.60,504.16 169.10,504.42 169.60,504.66 170.10,504.87 170.60,505.06 171.10,505.24 171.60,505.41 172.10,505.56 172.60,505.71 173.10,505.84 173.60,505.97 174.10,506.08 174.60,506.20 175.10,506.30 175.60,506.40 176.10,506.50 176.60,506.59 177.10,506.67 177.60,506.76 178.10,506.84 178.60,506.91 179.10,506.99 179.60,507.06 180.10,507.13 180.60,507.20 181.10,507.26 181.60,507.32 182.10,507.38 182.60,507.44 183.10,507.50 183.60,507.55 184.10,507.61 184.60,507.66 185.10,507.71 185.60,507.76 186.10,507.81 186.60,507.85 187.10,507.90 187.60,507.94 188.10,507.98 188.60,508.03 189.10,508.07 189.60,508.11 190.10,508.14 190.60,508.18 191.10,508.22 191.60,508.25 192.10,508.29 192.60,508.32 193.10,508.35 193.60,508.39 194.10,508.42 194.60,508.45 195.10,508.48 195.60,508.51 196.10,508.54 196.60,508.56 197.10,508.59 197.60,508.62 198.10,508.64 198.60,508.67 199.10,508.69 199.60,508.72 200.10,508.74 200.60,508.77 201.10,508.79 201.60,508.81 202.10,508.83 202.60,508.86 203.10,508.88 203.60,508.90 204.10,508.92 204.60,508.94 205.10,508.96 205.60,508.98 206.10,508.99 206.60,509.01 207.10,509.03 207.60,509.05 208.10,509.06 208.60,509.08 209.10,509.10 209.60,509.11 210.10,509.13 210.60,509.15 211.10,509.16 211.60,509.18 212.10,509.19 212.60,509.21 213.10,509.22 213.60,509.24 214.10,509.25 214.60,509.26 215.10,509.28 215.60,509.29 216.10,509.30 216.60,509.32 217.10,509.33 217.60,509.34 218.10,509.35 218.60,509.36 219.10,509.38 219.60,509.39 220.10,509.40 220.60,509.41 221.10,509.42 221.60,509.43 222.10,509.44 222.60,509.45 223.10,509.46 223.60,509.47 224.10,509.48 224.60,509.49 225.10,509.50 225.60,509.51" fill="none" stroke="#0000ff" stroke-width="1.6" stroke-linejoin="round" stroke-linecap="round"/>
<text x="105" y="386.1" font-size="11.3" font-weight="normal" fill="#1a1a1a" text-anchor="start" >Na 1s</text>
<text x="40.8" y="470.3" font-size="11.5" font-weight="bold" fill="#ff0000" text-anchor="start" >NTO-48h</text>
<text x="41.7" y="503" font-size="11.5" font-weight="bold" fill="#0000ff" text-anchor="start" >NTO-8h</text>
<text x="252.3" y="388" font-size="12.5" fill="#1a1a1a" textLength="12.50" lengthAdjust="spacingAndGlyphs" stroke="#1a1a1a" stroke-width="0.25">(f)</text>
<rect x="322.5" y="372" width="173.70" height="145.30" fill="none" stroke="#969696" stroke-width="1.1"/>
<path d="M496.20,517.30v3.2 M491.38,517.30v1.8 M486.55,517.30v1.8 M481.73,517.30v1.8 M476.90,517.30v1.8 M472.07,517.30v1.8 M467.25,517.30v3.2 M462.43,517.30v1.8 M457.60,517.30v1.8 M452.77,517.30v1.8 M447.95,517.30v1.8 M443.12,517.30v1.8 M438.30,517.30v3.2 M433.48,517.30v1.8 M428.65,517.30v1.8 M423.82,517.30v1.8 M419.00,517.30v1.8 M414.17,517.30v1.8 M409.35,517.30v3.2 M404.53,517.30v1.8 M399.70,517.30v1.8 M394.88,517.30v1.8 M390.05,517.30v1.8 M385.22,517.30v1.8 M380.40,517.30v3.2 M375.58,517.30v1.8 M370.75,517.30v1.8 M365.93,517.30v1.8 M361.10,517.30v1.8 M356.27,517.30v1.8 M351.45,517.30v3.2 M346.63,517.30v1.8 M341.80,517.30v1.8 M336.98,517.30v1.8 M332.15,517.30v1.8 M327.32,517.30v1.8 M322.50,517.30v3.2" stroke="#555" stroke-width="0.9" fill="none"/>
<text x="324.00" y="533.1" font-size="10" font-weight="normal" fill="#1a1a1a" text-anchor="middle" >1078</text>
<text x="352.00" y="533.1" font-size="10" font-weight="normal" fill="#1a1a1a" text-anchor="middle" >1076</text>
<text x="382.70" y="533.1" font-size="10" font-weight="normal" fill="#1a1a1a" text-anchor="middle" >1074</text>
<text x="410.60" y="533.1" font-size="10" font-weight="normal" fill="#1a1a1a" text-anchor="middle" >1072</text>
<text x="438.60" y="533.1" font-size="10" font-weight="normal" fill="#1a1a1a" text-anchor="middle" >1070</text>
<text x="469.40" y="533.1" font-size="10" font-weight="normal" fill="#1a1a1a" text-anchor="middle" >1068</text>
<text x="497.30" y="533.1" font-size="10" font-weight="normal" fill="#1a1a1a" text-anchor="middle" >1066</text>
<path d="M322.50,517.30h-3.5 M322.50,511.25h-2 M322.50,505.19h-2 M322.50,499.14h-2 M322.50,493.08h-2 M322.50,487.03h-2 M322.50,480.97h-3.5 M322.50,474.92h-2 M322.50,468.87h-2 M322.50,462.81h-2 M322.50,456.76h-2 M322.50,450.70h-2 M322.50,444.65h-3.5 M322.50,438.60h-2 M322.50,432.54h-2 M322.50,426.49h-2 M322.50,420.43h-2 M322.50,414.38h-2 M322.50,408.32h-3.5 M322.50,402.27h-2 M322.50,396.22h-2 M322.50,390.16h-2 M322.50,384.11h-2 M322.50,378.05h-2 M322.50,372.00h-3.5" stroke="#555" stroke-width="0.9" fill="none"/>
<text x="316.5" y="520.90" font-size="10" font-weight="normal" fill="#1a1a1a" text-anchor="end" >10,000</text>
<text x="316.5" y="484.57" font-size="10" font-weight="normal" fill="#1a1a1a" text-anchor="end" >15,000</text>
<text x="316.5" y="448.25" font-size="10" font-weight="normal" fill="#1a1a1a" text-anchor="end" >20,000</text>
<text x="316.5" y="411.93" font-size="10" font-weight="normal" fill="#1a1a1a" text-anchor="end" >25,000</text>
<text x="316.5" y="375.60" font-size="10" font-weight="normal" fill="#1a1a1a" text-anchor="end" >30,000</text>
<text x="409.3" y="543.8" font-size="10" font-weight="bold" fill="#1a1a1a" text-anchor="middle" >Binding energy / eV</text>
<text x="282.7" y="444" font-size="10" font-weight="bold" fill="#1a1a1a" text-anchor="middle" transform="rotate(-90 282.7 444)">Intensity / cps</text>
<polyline points="379.30,507.15 379.80,507.10 380.30,507.04 380.80,506.97 381.30,506.89 381.80,506.80 382.30,506.70 382.80,506.59 383.30,506.46 383.80,506.32 384.30,506.17 384.80,505.99 385.30,505.80 385.80,505.58 386.30,505.35 386.80,505.09 387.30,504.81 387.80,504.51 388.30,504.17 388.80,503.82 389.30,503.43 389.80,503.02 390.30,502.58 390.80,502.11 391.30,501.61 391.80,501.09 392.30,500.54 392.80,499.96 393.30,499.36 393.80,498.74 394.30,498.10 394.80,497.44 395.30,496.77 395.80,496.08 396.30,495.39 396.80,494.69 397.30,493.99 397.80,493.30 398.30,492.62 398.80,491.95 399.30,491.29 399.80,490.66 400.30,490.06 400.80,489.49 401.30,488.96 401.80,488.47 402.30,488.02 402.80,487.63 403.30,487.29 403.80,487.00 404.30,486.78 404.80,486.61 405.30,486.51 405.80,486.47 406.30,486.49 406.80,486.58 407.30,486.73 407.80,486.95 408.30,487.22 408.80,487.55 409.30,487.93 409.80,488.37 410.30,488.85 410.80,489.38 411.30,489.94 411.80,490.54 412.30,491.17 412.80,491.83 413.30,492.51 413.80,493.20 414.30,493.91 414.80,494.62 415.30,495.33 415.80,496.04 416.30,496.75 416.80,497.44 417.30,498.12 417.80,498.79 418.30,499.44 418.80,500.06 419.30,500.67 419.80,501.25 420.30,501.80 420.80,502.33 421.30,502.83 421.80,503.30 422.30,503.74 422.80,504.16 423.30,504.55 423.80,504.91 424.30,505.25 424.80,505.56 425.30,505.84 425.80,506.11 426.30,506.35 426.80,506.57 427.30,506.77 427.80,506.95 428.30,507.12 428.80,507.27 429.30,507.41 429.80,507.53 430.30,507.64 430.80,507.74 431.30,507.84 431.80,507.92 432.30,507.99" fill="none" stroke="#22ee22" stroke-width="1.3" stroke-linejoin="round" stroke-linecap="round"/>
<polyline points="323.30,507.60 323.80,507.60 324.30,507.60 324.80,507.60 325.30,507.60 325.80,507.60 326.30,507.60 326.80,507.60 327.30,507.60 327.80,507.60 328.30,507.60 328.80,507.60 329.30,507.60 329.80,507.60 330.30,507.60 330.80,507.60 331.30,507.59 331.80,507.59 332.30,507.59 332.80,507.59 333.30,507.59 333.80,507.59 334.30,507.59 334.80,507.59 335.30,507.59 335.80,507.59 336.30,507.59 336.80,507.59 337.30,507.59 337.80,507.58 338.30,507.58 338.80,507.58 339.30,507.58 339.80,507.58 340.30,507.58 340.80,507.58 341.30,507.58 341.80,507.58 342.30,507.57 342.80,507.57 343.30,507.57 343.80,507.57 344.30,507.57 344.80,507.57 345.30,507.57 345.80,507.57 346.30,507.57 346.80,507.56 347.30,507.56 347.80,507.56 348.30,507.56 348.80,507.56 349.30,507.56 349.80,507.56 350.30,507.56 350.80,507.55 351.30,507.55 351.80,507.55 352.30,507.55 352.80,507.55 353.30,507.55 353.80,507.55 354.30,507.54 354.80,507.54 355.30,507.54 355.80,507.54 356.30,507.54 356.80,507.54 357.30,507.54 357.80,507.53 358.30,507.53 358.80,507.53 359.30,507.53 359.80,507.53 360.30,507.53 360.80,507.53 361.30,507.52 361.80,507.52 362.30,507.52 362.80,507.52 363.30,507.52 363.80,507.52 364.30,507.52 364.80,507.51 365.30,507.51 365.80,507.51 366.30,507.51 366.80,507.51 367.30,507.51 367.80,507.51 368.30,507.50 368.80,507.50 369.30,507.50 369.80,507.50 370.30,507.50 370.80,507.50 371.30,507.50 371.80,507.49 372.30,507.49 372.80,507.49 373.30,507.49 373.80,507.49 374.30,507.49 374.80,507.48 375.30,507.48 375.80,507.48 376.30,507.48 376.80,507.48 377.30,507.47 377.80,507.47 378.30,507.47 378.80,507.47 379.30,507.47 379.80,507.46 380.30,507.46 380.80,507.46 381.30,507.46 381.80,507.45 382.30,507.45 382.80,507.45 383.30,507.45 383.80,507.45 384.30,507.44 384.80,507.44 385.30,507.44 385.80,507.44 386.30,507.43 386.80,507.43 387.30,507.43 387.80,507.43 388.30,507.43 388.80,507.42 389.30,507.42 389.80,507.42 390.30,507.42 390.80,507.42 391.30,507.42 391.80,507.41 392.30,507.41 392.80,507.41 393.30,507.41 393.80,507.41 394.30,507.41 394.80,507.41 395.30,507.40 395.80,507.40 396.30,507.40 396.80,507.40 397.30,507.40 397.80,507.40 398.30,507.40 398.80,507.40 399.30,507.40 399.80,507.40 400.30,507.40 400.80,507.40 401.30,507.40 401.80,507.40 402.30,507.41 402.80,507.41 403.30,507.42 403.80,507.42 404.30,507.43 404.80,507.43 405.30,507.44 405.80,507.45 406.30,507.45 406.80,507.46 407.30,507.47 407.80,507.48 408.30,507.49 408.80,507.50 409.30,507.51 409.80,507.52 410.30,507.54 410.80,507.55 411.30,507.56 411.80,507.57 412.30,507.59 412.80,507.60 413.30,507.62 413.80,507.63 414.30,507.65 414.80,507.66 415.30,507.68 415.80,507.69 416.30,507.71 416.80,507.73 417.30,507.74 417.80,507.76 418.30,507.78 418.80,507.80 419.30,507.82 419.80,507.83 420.30,507.85 420.80,507.87 421.30,507.89 421.80,507.91 422.30,507.93 422.80,507.95 423.30,507.97 423.80,507.99 424.30,508.01 424.80,508.03 425.30,508.05 425.80,508.07 426.30,508.09 426.80,508.11 427.30,508.13 427.80,508.15 428.30,508.17 428.80,508.19 429.30,508.21 429.80,508.23 430.30,508.25 430.80,508.27 431.30,508.29 431.80,508.31 432.30,508.33 432.80,508.35 433.30,508.37 433.80,508.40 434.30,508.42 434.80,508.44 435.30,508.47 435.80,508.49 436.30,508.52 436.80,508.55 437.30,508.58 437.80,508.60 438.30,508.63 438.80,508.66 439.30,508.69 439.80,508.72 440.30,508.75 440.80,508.78 441.30,508.81 441.80,508.85 442.30,508.88 442.80,508.91 443.30,508.94 443.80,508.97 444.30,509.01 444.80,509.04 445.30,509.07 445.80,509.10 446.30,509.14 446.80,509.17 447.30,509.20 447.80,509.23 448.30,509.27 448.80,509.30 449.30,509.33 449.80,509.36 450.30,509.39 450.80,509.43 451.30,509.46 451.80,509.49 452.30,509.52 452.80,509.55 453.30,509.58 453.80,509.62 454.30,509.65 454.80,509.68 455.30,509.72 455.80,509.75 456.30,509.78 456.80,509.82 457.30,509.85 457.80,509.88 458.30,509.92 458.80,509.95 459.30,509.98 459.80,510.02 460.30,510.05 460.80,510.09 461.30,510.12 461.80,510.15 462.30,510.19 462.80,510.22 463.30,510.26 463.80,510.29 464.30,510.33 464.80,510.36 465.30,510.40 465.80,510.43 466.30,510.47 466.80,510.50 467.30,510.54 467.80,510.57 468.30,510.61 468.80,510.64 469.30,510.68 469.80,510.71 470.30,510.75 470.80,510.78 471.30,510.82 471.80,510.85 472.30,510.89 472.80,510.92 473.30,510.96 473.80,510.99 474.30,511.03 474.80,511.06 475.30,511.10 475.80,511.14 476.30,511.17 476.80,511.21 477.30,511.25 477.80,511.29 478.30,511.33 478.80,511.37 479.30,511.41 479.80,511.45 480.30,511.49 480.80,511.53 481.30,511.57 481.80,511.61 482.30,511.65 482.80,511.69 483.30,511.73 483.80,511.77 484.30,511.81 484.80,511.85 485.30,511.88 485.80,511.92 486.30,511.96 486.80,512.00 487.30,512.04 487.80,512.08 488.30,512.11 488.80,512.15 489.30,512.19 489.80,512.22 490.30,512.26 490.80,512.29 491.30,512.32 491.80,512.36 492.30,512.39 492.80,512.42 493.30,512.45 493.80,512.48 494.30,512.51 494.80,512.54 495.30,512.56" fill="none" stroke="#0000ff" stroke-width="1.5" stroke-linejoin="round" stroke-linecap="round"/>
<polyline points="435.30,507.92 435.80,507.85 436.30,507.77 436.80,507.68 437.30,507.59 437.80,507.50 438.30,507.41 438.80,507.33 439.30,507.26 439.80,507.21 440.30,507.18 440.80,507.19 441.30,507.22 441.80,507.28 442.30,507.38 442.80,507.49 443.30,507.63 443.80,507.77 444.30,507.92 444.80,508.07 445.30,508.23 445.80,508.37 446.30,508.51 446.80,508.63" fill="none" stroke="#ff8000" stroke-width="1.3" stroke-linejoin="round" stroke-linecap="round"/>
<polyline points="323.30,507.53 323.80,507.53 324.30,507.53 324.80,507.53 325.30,507.53 325.80,507.53 326.30,507.53 326.80,507.53 327.30,507.53 327.80,507.53 328.30,507.53 328.80,507.52 329.30,507.52 329.80,507.52 330.30,507.52 330.80,507.52 331.30,507.52 331.80,507.52 332.30,507.51 332.80,507.51 333.30,507.51 333.80,507.51 334.30,507.51 334.80,507.51 335.30,507.50 335.80,507.50 336.30,507.50 336.80,507.50 337.30,507.50 337.80,507.49 338.30,507.49 338.80,507.49 339.30,507.49 339.80,507.49 340.30,507.48 340.80,507.48 341.30,507.48 341.80,507.48 342.30,507.47 342.80,507.47 343.30,507.47 343.80,507.47 344.30,507.46 344.80,507.46 345.30,507.46 345.80,507.46 346.30,507.45 346.80,507.45 347.30,507.45 347.80,507.45 348.30,507.44 348.80,507.44 349.30,507.44 349.80,507.43 350.30,507.43 350.80,507.43 351.30,507.42 351.80,507.42 352.30,507.42 352.80,507.42 353.30,507.41 353.80,507.41 354.30,507.41 354.80,507.40 355.30,507.40 355.80,507.39 356.30,507.39 356.80,507.39 357.30,507.38 357.80,507.38 358.30,507.38 358.80,507.37 359.30,507.37 359.80,507.36 360.30,507.36 360.80,507.36 361.30,507.35 361.80,507.35 362.30,507.34 362.80,507.34 363.30,507.33 363.80,507.33 364.30,507.32 364.80,507.32 365.30,507.31 365.80,507.31 366.30,507.31 366.80,507.30 367.30,507.29 367.80,507.29 368.30,507.28 368.80,507.28 369.30,507.27 369.80,507.27 370.30,507.26 370.80,507.26 371.30,507.25 371.80,507.24 372.30,507.24 372.80,507.23 373.30,507.22 373.80,507.22 374.30,507.21 374.80,507.20 375.30,507.19 375.80,507.18 376.30,507.18 376.80,507.17 377.30,507.16 377.80,507.15 378.30,507.14 378.80,507.13 379.30,507.12 379.80,507.11 380.30,507.10 380.80,507.09 381.30,507.08 381.80,507.06 382.30,507.05 382.80,507.04 383.30,507.03 383.80,507.01 384.30,507.00 384.80,506.98 385.30,506.97 385.80,506.95 386.30,506.93 386.80,506.91 387.30,506.89 387.80,506.87 388.30,506.85 388.80,506.82 389.30,506.79 389.80,506.76 390.30,506.72 390.80,506.68 391.30,506.63 391.80,506.57 392.30,506.51 392.80,506.43 393.30,506.35 393.80,506.24 394.30,506.12 394.80,505.98 395.30,505.82 395.80,505.63 396.30,505.41 396.80,505.15 397.30,504.84 397.80,504.49 398.30,504.09 398.80,503.62 399.30,503.08 399.80,502.46 400.30,501.76 400.80,500.96 401.30,500.05 401.80,499.02 402.30,497.86 402.80,496.57 403.30,495.12 403.80,493.52 404.30,491.74 404.80,489.78 405.30,487.64 405.80,485.30 406.30,482.76 406.80,480.01 407.30,477.06 407.80,473.90 408.30,470.54 408.80,466.97 409.30,463.22 409.80,459.29 410.30,455.19 410.80,450.95 411.30,446.58 411.80,442.12 412.30,437.58 412.80,433.00 413.30,428.42 413.80,423.86 414.30,419.37 414.80,414.99 415.30,410.75 415.80,406.71 416.30,402.89 416.80,399.35 417.30,396.12 417.80,393.23 418.30,390.73 418.80,388.64 419.30,386.99 419.80,385.80 420.30,385.09 420.80,384.86 421.30,385.13 421.80,385.88 422.30,387.12 422.80,388.81 423.30,390.94 423.80,393.48 424.30,396.41 424.80,399.69 425.30,403.27 425.80,407.13 426.30,411.21 426.80,415.48 427.30,419.90 427.80,424.43 428.30,429.02 428.80,433.64 429.30,438.25 429.80,442.82 430.30,447.32 430.80,451.72 431.30,455.99 431.80,460.11 432.30,464.08 432.80,467.86 433.30,471.46 433.80,474.85 434.30,478.04 434.80,481.03 435.30,483.80 435.80,486.38 436.30,488.75 436.80,490.92 437.30,492.91 437.80,494.72 438.30,496.36 438.80,497.83 439.30,499.16 439.80,500.35 440.30,501.41 440.80,502.35 441.30,503.18 441.80,503.92 442.30,504.56 442.80,505.13 443.30,505.63 443.80,506.07 444.30,506.45 444.80,506.79 445.30,507.08 445.80,507.33 446.30,507.55 446.80,507.75 447.30,507.92 447.80,508.07 448.30,508.20 448.80,508.32 449.30,508.43 449.80,508.52 450.30,508.61 450.80,508.69 451.30,508.76 451.80,508.83 452.30,508.89 452.80,508.95 453.30,509.01 453.80,509.06 454.30,509.11 454.80,509.17 455.30,509.21 455.80,509.26 456.30,509.31 456.80,509.36 457.30,509.40 457.80,509.45 458.30,509.49 458.80,509.54 459.30,509.58 459.80,509.63 460.30,509.67 460.80,509.71 461.30,509.76 461.80,509.80 462.30,509.84 462.80,509.88 463.30,509.93 463.80,509.97 464.30,510.01 464.80,510.05 465.30,510.09 465.80,510.13 466.30,510.18 466.80,510.22 467.30,510.26 467.80,510.30 468.30,510.34 468.80,510.38 469.30,510.42 469.80,510.46 470.30,510.50 470.80,510.54 471.30,510.58 471.80,510.62 472.30,510.66 472.80,510.70 473.30,510.74 473.80,510.78 474.30,510.82 474.80,510.86 475.30,510.90 475.80,510.94 476.30,510.98 476.80,511.02 477.30,511.06 477.80,511.10 478.30,511.14 478.80,511.19 479.30,511.23 479.80,511.27 480.30,511.31 480.80,511.36 481.30,511.40 481.80,511.44 482.30,511.48 482.80,511.53 483.30,511.57 483.80,511.61 484.30,511.65 484.80,511.70 485.30,511.74 485.80,511.78 486.30,511.82 486.80,511.86 487.30,511.90 487.80,511.94 488.30,511.98 488.80,512.02 489.30,512.05 489.80,512.09 490.30,512.13 490.80,512.17 491.30,512.20 491.80,512.24 492.30,512.27 492.80,512.30 493.30,512.33 493.80,512.37 494.30,512.40 494.80,512.42 495.30,512.45" fill="none" stroke="#0000ff" stroke-width="1.6" stroke-linejoin="round" stroke-linecap="round"/>
<polyline points="323.30,507.53 323.80,507.53 324.30,507.53 324.80,507.53 325.30,507.53 325.80,507.53 326.30,507.53 326.80,507.53 327.30,507.52 327.80,507.52 328.30,507.52 328.80,507.52 329.30,507.52 329.80,507.52 330.30,507.52 330.80,507.51 331.30,507.51 331.80,507.51 332.30,507.51 332.80,507.51 333.30,507.51 333.80,507.51 334.30,507.50 334.80,507.50 335.30,507.50 335.80,507.50 336.30,507.50 336.80,507.49 337.30,507.49 337.80,507.49 338.30,507.49 338.80,507.49 339.30,507.48 339.80,507.48 340.30,507.48 340.80,507.48 341.30,507.47 341.80,507.47 342.30,507.47 342.80,507.47 343.30,507.46 343.80,507.46 344.30,507.46 344.80,507.46 345.30,507.45 345.80,507.45 346.30,507.45 346.80,507.45 347.30,507.44 347.80,507.44 348.30,507.44 348.80,507.43 349.30,507.43 349.80,507.43 350.30,507.42 350.80,507.42 351.30,507.42 351.80,507.42 352.30,507.41 352.80,507.41 353.30,507.41 353.80,507.40 354.30,507.40 354.80,507.39 355.30,507.39 355.80,507.39 356.30,507.38 356.80,507.38 357.30,507.38 357.80,507.37 358.30,507.37 358.80,507.36 359.30,507.36 359.80,507.36 360.30,507.35 360.80,507.35 361.30,507.34 361.80,507.34 362.30,507.33 362.80,507.33 363.30,507.32 363.80,507.32 364.30,507.31 364.80,507.31 365.30,507.30 365.80,507.30 366.30,507.29 366.80,507.29 367.30,507.28 367.80,507.27 368.30,507.27 368.80,507.26 369.30,507.25 369.80,507.25 370.30,507.24 370.80,507.23 371.30,507.22 371.80,507.21 372.30,507.20 372.80,507.19 373.30,507.17 373.80,507.16 374.30,507.14 374.80,507.12 375.30,507.10 375.80,507.08 376.30,507.05 376.80,507.02 377.30,506.99 377.80,506.95 378.30,506.91 378.80,506.86 379.30,506.80 379.80,506.74 380.30,506.67 380.80,506.60 381.30,506.51 381.80,506.41 382.30,506.30 382.80,506.18 383.30,506.04 383.80,505.89 384.30,505.72 384.80,505.53 385.30,505.32 385.80,505.10 386.30,504.84 386.80,504.57 387.30,504.27 387.80,503.95 388.30,503.59 388.80,503.21 389.30,502.80 389.80,502.35 390.30,501.88 390.80,501.37 391.30,500.82 391.80,500.24 392.30,499.63 392.80,498.98 393.30,498.29 393.80,497.57 394.30,496.81 394.80,496.01 395.30,495.18 395.80,494.30 396.30,493.39 396.80,492.43 397.30,491.43 397.80,490.39 398.30,489.30 398.80,488.16 399.30,486.97 399.80,485.72 400.30,484.41 400.80,483.04 401.30,481.60 401.80,480.08 402.30,478.47 402.80,476.78 403.30,474.99 403.80,473.09 404.30,471.08 404.80,468.96 405.30,466.70 405.80,464.32 406.30,461.79 406.80,459.13 407.30,456.31 407.80,453.36 408.30,450.25 408.80,447.01 409.30,443.63 409.80,440.12 410.30,436.49 410.80,432.77 411.30,428.95 411.80,425.08 412.30,421.16 412.80,417.22 413.30,413.30 413.80,409.42 414.30,405.62 414.80,401.93 415.30,398.39 415.80,395.04 416.30,391.91 416.80,389.05 417.30,386.48 417.80,384.24 418.30,382.37 418.80,380.88 419.30,379.82 419.80,379.19 420.30,379.02 420.80,379.30 421.30,380.04 421.80,381.25 422.30,382.90 422.80,384.99 423.30,387.49 423.80,390.38 424.30,393.62 424.80,397.18 425.30,401.03 425.80,405.12 426.30,409.43 426.80,413.90 427.30,418.50 427.80,423.18 428.30,427.91 428.80,432.66 429.30,437.38 429.80,442.04 430.30,446.62 430.80,451.08 431.30,455.41 431.80,459.57 432.30,463.56 432.80,467.35 433.30,470.94 433.80,474.31 434.30,477.47 434.80,480.41 435.30,483.12 435.80,485.61 436.30,487.90 436.80,489.97 437.30,491.85 437.80,493.55 438.30,495.08 438.80,496.45 439.30,497.69 439.80,498.80 440.30,499.81 440.80,500.72 441.30,501.56 441.80,502.34 442.30,503.05 442.80,503.70 443.30,504.30 443.80,504.85 444.30,505.36 444.80,505.81 445.30,506.22 445.80,506.59 446.30,506.91 446.80,507.20 447.30,507.46 447.80,507.68 448.30,507.88 448.80,508.05 449.30,508.20 449.80,508.34 450.30,508.45 450.80,508.55 451.30,508.64 451.80,508.73 452.30,508.80 452.80,508.87 453.30,508.94 453.80,509.00 454.30,509.06 454.80,509.11 455.30,509.16 455.80,509.22 456.30,509.27 456.80,509.32 457.30,509.36 457.80,509.41 458.30,509.46 458.80,509.50 459.30,509.55 459.80,509.60 460.30,509.64 460.80,509.69 461.30,509.73 461.80,509.77 462.30,509.82 462.80,509.86 463.30,509.90 463.80,509.95 464.30,509.99 464.80,510.03 465.30,510.07 465.80,510.12 466.30,510.16 466.80,510.20 467.30,510.24 467.80,510.28 468.30,510.32 468.80,510.36 469.30,510.40 469.80,510.44 470.30,510.49 470.80,510.53 471.30,510.57 471.80,510.61 472.30,510.65 472.80,510.69 473.30,510.73 473.80,510.76 474.30,510.80 474.80,510.84 475.30,510.88 475.80,510.93 476.30,510.97 476.80,511.01 477.30,511.05 477.80,511.09 478.30,511.13 478.80,511.18 479.30,511.22 479.80,511.26 480.30,511.30 480.80,511.35 481.30,511.39 481.80,511.43 482.30,511.48 482.80,511.52 483.30,511.56 483.80,511.60 484.30,511.65 484.80,511.69 485.30,511.73 485.80,511.77 486.30,511.81 486.80,511.85 487.30,511.89 487.80,511.93 488.30,511.97 488.80,512.01 489.30,512.05 489.80,512.09 490.30,512.12 490.80,512.16 491.30,512.19 491.80,512.23 492.30,512.26 492.80,512.30 493.30,512.33 493.80,512.36 494.30,512.39 494.80,512.42 495.30,512.45" fill="none" stroke="#0000ff" stroke-width="2" stroke-linejoin="round" stroke-linecap="round"/>
<text x="327.4" y="384" font-size="11.5" font-weight="bold" fill="#0000ff" text-anchor="start" >NTO-8h</text>
<text x="332.7" y="397.7" font-size="11.3" font-weight="normal" fill="#1a1a1a" text-anchor="start" >Na 1s</text>
<text x="428.8" y="393" font-size="11.3" fill="#1a1a1a">Na<tspan font-size="5.5" dy="-4.2">+</tspan></text>
<text x="373.8" y="482.1" font-size="11.3" font-weight="normal" fill="#1a1a1a" text-anchor="start" >Ti LMM</text>
<text x="435" y="501.3" font-size="11.3" font-weight="normal" fill="#1a1a1a" text-anchor="start" >Ti LMM</text>
</svg></body></html>
